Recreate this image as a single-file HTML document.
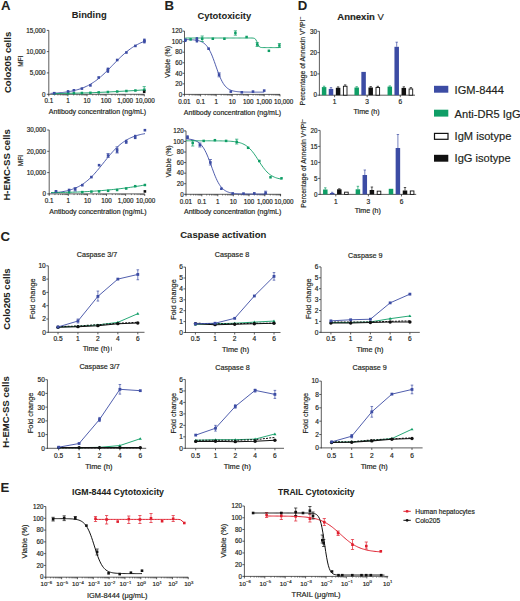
<!DOCTYPE html>
<html><head><meta charset="utf-8"><style>
html,body{margin:0;padding:0;background:#fff;}
body{width:520px;height:601px;overflow:hidden;}
svg{display:block;font-family:"Liberation Sans", sans-serif;}
text{stroke:#231f20;stroke-width:0.18px;}
text[font-weight=bold]{stroke-width:0.05px;}
</style></head><body>
<svg width="520" height="601" viewBox="0 0 520 601">
<rect width="520" height="601" fill="#fff"/>
<text x="0.9" y="10.4" font-size="13.2" text-anchor="start" fill="#231f20" font-weight="bold">A</text>
<text x="164.4" y="10.2" font-size="13.2" text-anchor="start" fill="#231f20" font-weight="bold">B</text>
<text x="297.8" y="10.2" font-size="13.2" text-anchor="start" fill="#231f20" font-weight="bold">D</text>
<text x="0.5" y="240.5" font-size="13.2" text-anchor="start" fill="#231f20" font-weight="bold">C</text>
<text x="0.4" y="491.8" font-size="13.2" text-anchor="start" fill="#231f20" font-weight="bold">E</text>
<text transform="translate(11.34,62.4) rotate(-90)" x="0" y="0" font-size="9.6" text-anchor="middle" fill="#231f20" font-weight="bold">Colo205 cells</text>
<text transform="translate(10.14,164.9) rotate(-90)" x="0" y="0" font-size="9.6" text-anchor="middle" fill="#231f20" font-weight="bold">H-EMC-SS cells</text>
<text transform="translate(9.64,299) rotate(-90)" x="0" y="0" font-size="9.6" text-anchor="middle" fill="#231f20" font-weight="bold">Colo205 cells</text>
<text transform="translate(9.14,412) rotate(-90)" x="0" y="0" font-size="9.6" text-anchor="middle" fill="#231f20" font-weight="bold">H-EMC-SS cells</text>
<text x="89.2" y="18.37" font-size="9.4" text-anchor="middle" fill="#231f20" font-weight="bold">Binding</text>
<text x="224.3" y="19.47" font-size="9.4" text-anchor="middle" fill="#231f20" font-weight="bold">Cytotoxicity</text>
<text x="360.6" y="19.8" font-size="9.5" text-anchor="middle" fill="#231f20"><tspan font-weight="bold">Annexin</tspan> V</text>
<text x="223.3" y="238.3" font-size="9.5" text-anchor="middle" fill="#231f20" font-weight="bold">Caspase activation</text>
<text x="118" y="495.25" font-size="8.8" text-anchor="middle" fill="#231f20" font-weight="bold">IGM-8444 Cytotoxicity</text>
<text x="316.3" y="494.58" font-size="8.6" text-anchor="middle" fill="#231f20" font-weight="bold">TRAIL Cytotoxicity</text>
<line x1="48.8" y1="30.4" x2="48.8" y2="94.7" stroke="#333" stroke-width="0.8"/>
<line x1="46.8" y1="30.4" x2="48.8" y2="30.4" stroke="#333" stroke-width="0.8"/>
<text x="45.6" y="32.66" font-size="6.3" text-anchor="end" fill="#231f20">15,000</text>
<line x1="46.8" y1="51.6" x2="48.8" y2="51.6" stroke="#333" stroke-width="0.8"/>
<text x="45.6" y="53.86" font-size="6.3" text-anchor="end" fill="#231f20">10,000</text>
<line x1="46.8" y1="72.9" x2="48.8" y2="72.9" stroke="#333" stroke-width="0.8"/>
<text x="45.6" y="75.16" font-size="6.3" text-anchor="end" fill="#231f20">5,000</text>
<line x1="46.8" y1="94.3" x2="48.8" y2="94.3" stroke="#333" stroke-width="0.8"/>
<text x="45.6" y="96.56" font-size="6.3" text-anchor="end" fill="#231f20">0</text>
<line x1="48.4" y1="94.3" x2="144.3" y2="94.3" stroke="#333" stroke-width="0.8"/>
<line x1="48.8" y1="94.3" x2="48.8" y2="96.3" stroke="#333" stroke-width="0.8"/>
<text x="48.8" y="103.46" font-size="6.3" text-anchor="middle" fill="#231f20">0.1</text>
<line x1="67.9" y1="94.3" x2="67.9" y2="96.3" stroke="#333" stroke-width="0.8"/>
<text x="67.9" y="103.46" font-size="6.3" text-anchor="middle" fill="#231f20">1</text>
<line x1="87" y1="94.3" x2="87" y2="96.3" stroke="#333" stroke-width="0.8"/>
<text x="87" y="103.46" font-size="6.3" text-anchor="middle" fill="#231f20">10</text>
<line x1="106.1" y1="94.3" x2="106.1" y2="96.3" stroke="#333" stroke-width="0.8"/>
<text x="106.1" y="103.46" font-size="6.3" text-anchor="middle" fill="#231f20">100</text>
<line x1="125.2" y1="94.3" x2="125.2" y2="96.3" stroke="#333" stroke-width="0.8"/>
<text x="125.2" y="103.46" font-size="6.3" text-anchor="middle" fill="#231f20">1,000</text>
<line x1="144.3" y1="94.3" x2="144.3" y2="96.3" stroke="#333" stroke-width="0.8"/>
<text x="145.2" y="103.46" font-size="6.3" text-anchor="middle" fill="#231f20">10,000</text>
<line x1="54.55" y1="94.3" x2="54.55" y2="95.5" stroke="#333" stroke-width="0.6400000000000001"/>
<line x1="57.91" y1="94.3" x2="57.91" y2="95.5" stroke="#333" stroke-width="0.6400000000000001"/>
<line x1="60.3" y1="94.3" x2="60.3" y2="95.5" stroke="#333" stroke-width="0.6400000000000001"/>
<line x1="62.15" y1="94.3" x2="62.15" y2="95.5" stroke="#333" stroke-width="0.6400000000000001"/>
<line x1="63.66" y1="94.3" x2="63.66" y2="95.5" stroke="#333" stroke-width="0.6400000000000001"/>
<line x1="64.94" y1="94.3" x2="64.94" y2="95.5" stroke="#333" stroke-width="0.6400000000000001"/>
<line x1="66.05" y1="94.3" x2="66.05" y2="95.5" stroke="#333" stroke-width="0.6400000000000001"/>
<line x1="67.03" y1="94.3" x2="67.03" y2="95.5" stroke="#333" stroke-width="0.6400000000000001"/>
<line x1="73.65" y1="94.3" x2="73.65" y2="95.5" stroke="#333" stroke-width="0.6400000000000001"/>
<line x1="77.01" y1="94.3" x2="77.01" y2="95.5" stroke="#333" stroke-width="0.6400000000000001"/>
<line x1="79.4" y1="94.3" x2="79.4" y2="95.5" stroke="#333" stroke-width="0.6400000000000001"/>
<line x1="81.25" y1="94.3" x2="81.25" y2="95.5" stroke="#333" stroke-width="0.6400000000000001"/>
<line x1="82.76" y1="94.3" x2="82.76" y2="95.5" stroke="#333" stroke-width="0.6400000000000001"/>
<line x1="84.04" y1="94.3" x2="84.04" y2="95.5" stroke="#333" stroke-width="0.6400000000000001"/>
<line x1="85.15" y1="94.3" x2="85.15" y2="95.5" stroke="#333" stroke-width="0.6400000000000001"/>
<line x1="86.13" y1="94.3" x2="86.13" y2="95.5" stroke="#333" stroke-width="0.6400000000000001"/>
<line x1="92.75" y1="94.3" x2="92.75" y2="95.5" stroke="#333" stroke-width="0.6400000000000001"/>
<line x1="96.11" y1="94.3" x2="96.11" y2="95.5" stroke="#333" stroke-width="0.6400000000000001"/>
<line x1="98.5" y1="94.3" x2="98.5" y2="95.5" stroke="#333" stroke-width="0.6400000000000001"/>
<line x1="100.35" y1="94.3" x2="100.35" y2="95.5" stroke="#333" stroke-width="0.6400000000000001"/>
<line x1="101.86" y1="94.3" x2="101.86" y2="95.5" stroke="#333" stroke-width="0.6400000000000001"/>
<line x1="103.14" y1="94.3" x2="103.14" y2="95.5" stroke="#333" stroke-width="0.6400000000000001"/>
<line x1="104.25" y1="94.3" x2="104.25" y2="95.5" stroke="#333" stroke-width="0.6400000000000001"/>
<line x1="105.23" y1="94.3" x2="105.23" y2="95.5" stroke="#333" stroke-width="0.6400000000000001"/>
<line x1="111.85" y1="94.3" x2="111.85" y2="95.5" stroke="#333" stroke-width="0.6400000000000001"/>
<line x1="115.21" y1="94.3" x2="115.21" y2="95.5" stroke="#333" stroke-width="0.6400000000000001"/>
<line x1="117.6" y1="94.3" x2="117.6" y2="95.5" stroke="#333" stroke-width="0.6400000000000001"/>
<line x1="119.45" y1="94.3" x2="119.45" y2="95.5" stroke="#333" stroke-width="0.6400000000000001"/>
<line x1="120.96" y1="94.3" x2="120.96" y2="95.5" stroke="#333" stroke-width="0.6400000000000001"/>
<line x1="122.24" y1="94.3" x2="122.24" y2="95.5" stroke="#333" stroke-width="0.6400000000000001"/>
<line x1="123.35" y1="94.3" x2="123.35" y2="95.5" stroke="#333" stroke-width="0.6400000000000001"/>
<line x1="124.33" y1="94.3" x2="124.33" y2="95.5" stroke="#333" stroke-width="0.6400000000000001"/>
<line x1="130.95" y1="94.3" x2="130.95" y2="95.5" stroke="#333" stroke-width="0.6400000000000001"/>
<line x1="134.31" y1="94.3" x2="134.31" y2="95.5" stroke="#333" stroke-width="0.6400000000000001"/>
<line x1="136.7" y1="94.3" x2="136.7" y2="95.5" stroke="#333" stroke-width="0.6400000000000001"/>
<line x1="138.55" y1="94.3" x2="138.55" y2="95.5" stroke="#333" stroke-width="0.6400000000000001"/>
<line x1="140.06" y1="94.3" x2="140.06" y2="95.5" stroke="#333" stroke-width="0.6400000000000001"/>
<line x1="141.34" y1="94.3" x2="141.34" y2="95.5" stroke="#333" stroke-width="0.6400000000000001"/>
<line x1="142.45" y1="94.3" x2="142.45" y2="95.5" stroke="#333" stroke-width="0.6400000000000001"/>
<line x1="143.43" y1="94.3" x2="143.43" y2="95.5" stroke="#333" stroke-width="0.6400000000000001"/>
<text transform="translate(23.03,61.2) rotate(-90)" x="0" y="0" font-size="6.5" text-anchor="middle" fill="#231f20">MFI</text>
<text x="97.5" y="114.41" font-size="7" text-anchor="middle" fill="#231f20">Antibody concentration (ng/mL)</text>
<polyline points="50.5,93.39 51.69,93.33 52.88,93.26 54.07,93.19 55.26,93.12 56.45,93.03 57.64,92.94 58.83,92.84 60.02,92.74 61.21,92.62 62.4,92.5 63.59,92.36 64.78,92.21 65.97,92.06 67.16,91.88 68.35,91.7 69.54,91.5 70.73,91.28 71.92,91.05 73.11,90.8 74.3,90.52 75.49,90.23 76.68,89.92 77.87,89.58 79.06,89.22 80.25,88.83 81.44,88.41 82.63,87.96 83.82,87.49 85.01,86.98 86.2,86.43 87.39,85.86 88.58,85.24 89.77,84.59 90.96,83.9 92.15,83.17 93.34,82.41 94.53,81.6 95.72,80.75 96.91,79.87 98.09,78.94 99.28,77.98 100.47,76.97 101.66,75.94 102.85,74.87 104.04,73.77 105.23,72.64 106.42,71.48 107.61,70.3 108.8,69.11 109.99,67.9 111.18,66.68 112.37,65.45 113.56,64.22 114.75,62.99 115.94,61.77 117.13,60.56 118.32,59.37 119.51,58.2 120.7,57.04 121.89,55.92 123.08,54.82 124.27,53.75 125.46,52.72 126.65,51.73 127.84,50.77 129.03,49.85 130.22,48.96 131.41,48.12 132.6,47.32 133.79,46.56 134.98,45.84 136.17,45.15 137.36,44.51 138.55,43.9 139.74,43.32 140.93,42.78 142.12,42.28 143.31,41.81 144.5,41.36" fill="none" stroke="#3c4ca4" stroke-width="0.9" stroke-linejoin="round"/>
<polyline points="54.2,93.6 68.1,93.3 73.9,93.2 81.9,93 90.4,92.8 98.7,92.4 107.9,92 117.2,91.5 126.4,91 135.4,90.5 144.4,89.8" fill="none" stroke="#0f9e66" stroke-width="0.9" stroke-linejoin="round"/>
<rect x="52.95" y="92.35" width="2.5" height="2.5" fill="#0f9e66"/>
<rect x="66.85" y="92.05" width="2.5" height="2.5" fill="#0f9e66"/>
<rect x="72.65" y="91.95" width="2.5" height="2.5" fill="#0f9e66"/>
<rect x="80.65" y="91.75" width="2.5" height="2.5" fill="#0f9e66"/>
<rect x="89.15" y="91.55" width="2.5" height="2.5" fill="#0f9e66"/>
<rect x="97.45" y="91.15" width="2.5" height="2.5" fill="#0f9e66"/>
<rect x="106.65" y="90.75" width="2.5" height="2.5" fill="#0f9e66"/>
<rect x="115.95" y="90.25" width="2.5" height="2.5" fill="#0f9e66"/>
<rect x="125.15" y="89.75" width="2.5" height="2.5" fill="#0f9e66"/>
<rect x="134.15" y="89.25" width="2.5" height="2.5" fill="#0f9e66"/>
<rect x="143.15" y="88.55" width="2.5" height="2.5" fill="#0f9e66"/>
<rect x="52.9" y="91.9" width="2.6" height="2.6" fill="#3c4ca4"/>
<rect x="66.8" y="90.1" width="2.6" height="2.6" fill="#3c4ca4"/>
<rect x="72.6" y="89" width="2.6" height="2.6" fill="#3c4ca4"/>
<rect x="80.6" y="87.3" width="2.6" height="2.6" fill="#3c4ca4"/>
<rect x="89.1" y="84.1" width="2.6" height="2.6" fill="#3c4ca4"/>
<rect x="97.4" y="76.2" width="2.6" height="2.6" fill="#3c4ca4"/>
<rect x="106.6" y="68.8" width="2.6" height="2.6" fill="#3c4ca4"/>
<rect x="115.9" y="58.7" width="2.6" height="2.6" fill="#3c4ca4"/>
<rect x="125.1" y="51.2" width="2.6" height="2.6" fill="#3c4ca4"/>
<rect x="134.1" y="44.6" width="2.6" height="2.6" fill="#3c4ca4"/>
<rect x="143.1" y="39.7" width="2.6" height="2.6" fill="#3c4ca4"/>
<rect x="106.7" y="67.6" width="2.4" height="2.4" fill="#3c4ca4"/>
<rect x="106.7" y="70.4" width="2.4" height="2.4" fill="#3c4ca4"/>
<rect x="143.2" y="38.6" width="2.4" height="2.4" fill="#3c4ca4"/>
<rect x="143.2" y="41" width="2.4" height="2.4" fill="#3c4ca4"/>
<line x1="144.2" y1="86.6" x2="144.2" y2="90.5" stroke="#0f9e66" stroke-width="0.7"/>
<line x1="142.6" y1="86.6" x2="145.8" y2="86.6" stroke="#0f9e66" stroke-width="0.7"/>
<line x1="142.6" y1="90.5" x2="145.8" y2="90.5" stroke="#0f9e66" stroke-width="0.7"/>
<rect x="142.9" y="90.5" width="2.6" height="2.6" fill="#111"/>
<line x1="49.2" y1="130" x2="49.2" y2="194.3" stroke="#333" stroke-width="0.8"/>
<line x1="47.2" y1="130" x2="49.2" y2="130" stroke="#333" stroke-width="0.8"/>
<text x="46" y="132.26" font-size="6.3" text-anchor="end" fill="#231f20">30,000</text>
<line x1="47.2" y1="151.3" x2="49.2" y2="151.3" stroke="#333" stroke-width="0.8"/>
<text x="46" y="153.56" font-size="6.3" text-anchor="end" fill="#231f20">20,000</text>
<line x1="47.2" y1="172.6" x2="49.2" y2="172.6" stroke="#333" stroke-width="0.8"/>
<text x="46" y="174.86" font-size="6.3" text-anchor="end" fill="#231f20">10,000</text>
<line x1="47.2" y1="193.9" x2="49.2" y2="193.9" stroke="#333" stroke-width="0.8"/>
<text x="46" y="196.16" font-size="6.3" text-anchor="end" fill="#231f20">0</text>
<line x1="48.8" y1="193.9" x2="144.7" y2="193.9" stroke="#333" stroke-width="0.8"/>
<line x1="49.2" y1="193.9" x2="49.2" y2="195.9" stroke="#333" stroke-width="0.8"/>
<text x="49.2" y="203.26" font-size="6.3" text-anchor="middle" fill="#231f20">0.1</text>
<line x1="68.3" y1="193.9" x2="68.3" y2="195.9" stroke="#333" stroke-width="0.8"/>
<text x="68.3" y="203.26" font-size="6.3" text-anchor="middle" fill="#231f20">1</text>
<line x1="87.4" y1="193.9" x2="87.4" y2="195.9" stroke="#333" stroke-width="0.8"/>
<text x="87.4" y="203.26" font-size="6.3" text-anchor="middle" fill="#231f20">10</text>
<line x1="106.5" y1="193.9" x2="106.5" y2="195.9" stroke="#333" stroke-width="0.8"/>
<text x="106.5" y="203.26" font-size="6.3" text-anchor="middle" fill="#231f20">100</text>
<line x1="125.6" y1="193.9" x2="125.6" y2="195.9" stroke="#333" stroke-width="0.8"/>
<text x="125.6" y="203.26" font-size="6.3" text-anchor="middle" fill="#231f20">1,000</text>
<line x1="144.7" y1="193.9" x2="144.7" y2="195.9" stroke="#333" stroke-width="0.8"/>
<text x="145.6" y="203.26" font-size="6.3" text-anchor="middle" fill="#231f20">10,000</text>
<line x1="54.95" y1="193.9" x2="54.95" y2="195.1" stroke="#333" stroke-width="0.6400000000000001"/>
<line x1="58.31" y1="193.9" x2="58.31" y2="195.1" stroke="#333" stroke-width="0.6400000000000001"/>
<line x1="60.7" y1="193.9" x2="60.7" y2="195.1" stroke="#333" stroke-width="0.6400000000000001"/>
<line x1="62.55" y1="193.9" x2="62.55" y2="195.1" stroke="#333" stroke-width="0.6400000000000001"/>
<line x1="64.06" y1="193.9" x2="64.06" y2="195.1" stroke="#333" stroke-width="0.6400000000000001"/>
<line x1="65.34" y1="193.9" x2="65.34" y2="195.1" stroke="#333" stroke-width="0.6400000000000001"/>
<line x1="66.45" y1="193.9" x2="66.45" y2="195.1" stroke="#333" stroke-width="0.6400000000000001"/>
<line x1="67.43" y1="193.9" x2="67.43" y2="195.1" stroke="#333" stroke-width="0.6400000000000001"/>
<line x1="74.05" y1="193.9" x2="74.05" y2="195.1" stroke="#333" stroke-width="0.6400000000000001"/>
<line x1="77.41" y1="193.9" x2="77.41" y2="195.1" stroke="#333" stroke-width="0.6400000000000001"/>
<line x1="79.8" y1="193.9" x2="79.8" y2="195.1" stroke="#333" stroke-width="0.6400000000000001"/>
<line x1="81.65" y1="193.9" x2="81.65" y2="195.1" stroke="#333" stroke-width="0.6400000000000001"/>
<line x1="83.16" y1="193.9" x2="83.16" y2="195.1" stroke="#333" stroke-width="0.6400000000000001"/>
<line x1="84.44" y1="193.9" x2="84.44" y2="195.1" stroke="#333" stroke-width="0.6400000000000001"/>
<line x1="85.55" y1="193.9" x2="85.55" y2="195.1" stroke="#333" stroke-width="0.6400000000000001"/>
<line x1="86.53" y1="193.9" x2="86.53" y2="195.1" stroke="#333" stroke-width="0.6400000000000001"/>
<line x1="93.15" y1="193.9" x2="93.15" y2="195.1" stroke="#333" stroke-width="0.6400000000000001"/>
<line x1="96.51" y1="193.9" x2="96.51" y2="195.1" stroke="#333" stroke-width="0.6400000000000001"/>
<line x1="98.9" y1="193.9" x2="98.9" y2="195.1" stroke="#333" stroke-width="0.6400000000000001"/>
<line x1="100.75" y1="193.9" x2="100.75" y2="195.1" stroke="#333" stroke-width="0.6400000000000001"/>
<line x1="102.26" y1="193.9" x2="102.26" y2="195.1" stroke="#333" stroke-width="0.6400000000000001"/>
<line x1="103.54" y1="193.9" x2="103.54" y2="195.1" stroke="#333" stroke-width="0.6400000000000001"/>
<line x1="104.65" y1="193.9" x2="104.65" y2="195.1" stroke="#333" stroke-width="0.6400000000000001"/>
<line x1="105.63" y1="193.9" x2="105.63" y2="195.1" stroke="#333" stroke-width="0.6400000000000001"/>
<line x1="112.25" y1="193.9" x2="112.25" y2="195.1" stroke="#333" stroke-width="0.6400000000000001"/>
<line x1="115.61" y1="193.9" x2="115.61" y2="195.1" stroke="#333" stroke-width="0.6400000000000001"/>
<line x1="118" y1="193.9" x2="118" y2="195.1" stroke="#333" stroke-width="0.6400000000000001"/>
<line x1="119.85" y1="193.9" x2="119.85" y2="195.1" stroke="#333" stroke-width="0.6400000000000001"/>
<line x1="121.36" y1="193.9" x2="121.36" y2="195.1" stroke="#333" stroke-width="0.6400000000000001"/>
<line x1="122.64" y1="193.9" x2="122.64" y2="195.1" stroke="#333" stroke-width="0.6400000000000001"/>
<line x1="123.75" y1="193.9" x2="123.75" y2="195.1" stroke="#333" stroke-width="0.6400000000000001"/>
<line x1="124.73" y1="193.9" x2="124.73" y2="195.1" stroke="#333" stroke-width="0.6400000000000001"/>
<line x1="131.35" y1="193.9" x2="131.35" y2="195.1" stroke="#333" stroke-width="0.6400000000000001"/>
<line x1="134.71" y1="193.9" x2="134.71" y2="195.1" stroke="#333" stroke-width="0.6400000000000001"/>
<line x1="137.1" y1="193.9" x2="137.1" y2="195.1" stroke="#333" stroke-width="0.6400000000000001"/>
<line x1="138.95" y1="193.9" x2="138.95" y2="195.1" stroke="#333" stroke-width="0.6400000000000001"/>
<line x1="140.46" y1="193.9" x2="140.46" y2="195.1" stroke="#333" stroke-width="0.6400000000000001"/>
<line x1="141.74" y1="193.9" x2="141.74" y2="195.1" stroke="#333" stroke-width="0.6400000000000001"/>
<line x1="142.85" y1="193.9" x2="142.85" y2="195.1" stroke="#333" stroke-width="0.6400000000000001"/>
<line x1="143.83" y1="193.9" x2="143.83" y2="195.1" stroke="#333" stroke-width="0.6400000000000001"/>
<text transform="translate(23.03,160.6) rotate(-90)" x="0" y="0" font-size="6.5" text-anchor="middle" fill="#231f20">MFI</text>
<text x="98" y="213.51" font-size="7" text-anchor="middle" fill="#231f20">Antibody concentration (ng/mL)</text>
<polyline points="51,192.99 52.19,192.9 53.38,192.8 54.57,192.7 55.76,192.58 56.95,192.46 58.14,192.32 59.33,192.17 60.52,192 61.71,191.82 62.9,191.62 64.09,191.4 65.28,191.16 66.47,190.91 67.66,190.62 68.85,190.31 70.04,189.98 71.23,189.61 72.42,189.22 73.61,188.79 74.8,188.32 75.99,187.82 77.18,187.27 78.37,186.68 79.56,186.05 80.75,185.37 81.94,184.64 83.13,183.86 84.32,183.03 85.51,182.14 86.7,181.2 87.89,180.21 89.08,179.16 90.27,178.05 91.46,176.89 92.65,175.68 93.84,174.42 95.03,173.11 96.22,171.76 97.41,170.37 98.59,168.95 99.78,167.5 100.97,166.03 102.16,164.55 103.35,163.05 104.54,161.56 105.73,160.07 106.92,158.59 108.11,157.13 109.3,155.69 110.49,154.29 111.68,152.92 112.87,151.59 114.06,150.3 115.25,149.07 116.44,147.88 117.63,146.75 118.82,145.67 120.01,144.65 121.2,143.68 122.39,142.76 123.58,141.91 124.77,141.1 125.96,140.35 127.15,139.64 128.34,138.99 129.53,138.38 130.72,137.81 131.91,137.29 133.1,136.8 134.29,136.35 135.48,135.94 136.67,135.56 137.86,135.21 139.05,134.89 140.24,134.59 141.43,134.32 142.62,134.07 143.81,133.85 145,133.64" fill="none" stroke="#3c4ca4" stroke-width="0.9" stroke-linejoin="round"/>
<polyline points="51,192.5 53.41,192.5 55.82,192.49 58.23,192.47 60.64,192.45 63.05,192.42 65.46,192.38 67.87,192.33 70.28,192.27 72.69,192.2 75.1,192.12 77.51,192.04 79.92,191.94 82.33,191.83 84.74,191.71 87.15,191.58 89.56,191.44 91.97,191.29 94.38,191.13 96.79,190.96 99.21,190.77 101.62,190.58 104.03,190.37 106.44,190.15 108.85,189.92 111.26,189.68 113.67,189.43 116.08,189.16 118.49,188.88 120.9,188.59 123.31,188.29 125.72,187.97 128.13,187.65 130.54,187.31 132.95,186.95 135.36,186.59 137.77,186.21 140.18,185.82 142.59,185.42 145,185" fill="none" stroke="#0f9e66" stroke-width="0.9" stroke-linejoin="round"/>
<rect x="54.75" y="190.65" width="2.5" height="2.5" fill="#0f9e66"/>
<rect x="67.85" y="191.05" width="2.5" height="2.5" fill="#0f9e66"/>
<rect x="81.05" y="190.85" width="2.5" height="2.5" fill="#0f9e66"/>
<rect x="90.15" y="190.35" width="2.5" height="2.5" fill="#0f9e66"/>
<rect x="97.85" y="190.15" width="2.5" height="2.5" fill="#0f9e66"/>
<rect x="106.85" y="189.55" width="2.5" height="2.5" fill="#0f9e66"/>
<rect x="115.85" y="188.75" width="2.5" height="2.5" fill="#0f9e66"/>
<rect x="124.95" y="187.25" width="2.5" height="2.5" fill="#0f9e66"/>
<rect x="133.95" y="184.95" width="2.5" height="2.5" fill="#0f9e66"/>
<rect x="143.65" y="183.75" width="2.5" height="2.5" fill="#0f9e66"/>
<rect x="54.7" y="190" width="2.6" height="2.6" fill="#3c4ca4"/>
<rect x="67.8" y="188.7" width="2.6" height="2.6" fill="#3c4ca4"/>
<rect x="73.9" y="187.9" width="2.6" height="2.6" fill="#3c4ca4"/>
<rect x="81" y="183.9" width="2.6" height="2.6" fill="#3c4ca4"/>
<rect x="90.1" y="175.8" width="2.6" height="2.6" fill="#3c4ca4"/>
<rect x="97.8" y="163.9" width="2.6" height="2.6" fill="#3c4ca4"/>
<rect x="106.8" y="154.2" width="2.6" height="2.6" fill="#3c4ca4"/>
<rect x="115.8" y="148.2" width="2.6" height="2.6" fill="#3c4ca4"/>
<rect x="124.9" y="141.2" width="2.6" height="2.6" fill="#3c4ca4"/>
<rect x="133.9" y="136.5" width="2.6" height="2.6" fill="#3c4ca4"/>
<rect x="143.6" y="128.9" width="2.6" height="2.6" fill="#3c4ca4"/>
<line x1="75.2" y1="187.5" x2="75.2" y2="191" stroke="#3c4ca4" stroke-width="0.7"/>
<line x1="73.6" y1="187.5" x2="76.8" y2="187.5" stroke="#3c4ca4" stroke-width="0.7"/>
<line x1="73.6" y1="191" x2="76.8" y2="191" stroke="#3c4ca4" stroke-width="0.7"/>
<line x1="117.1" y1="146.8" x2="117.1" y2="153" stroke="#3c4ca4" stroke-width="0.7"/>
<line x1="115.5" y1="146.8" x2="118.7" y2="146.8" stroke="#3c4ca4" stroke-width="0.7"/>
<line x1="115.5" y1="153" x2="118.7" y2="153" stroke="#3c4ca4" stroke-width="0.7"/>
<line x1="108.1" y1="153.5" x2="108.1" y2="157.5" stroke="#3c4ca4" stroke-width="0.7"/>
<line x1="106.5" y1="153.5" x2="109.7" y2="153.5" stroke="#3c4ca4" stroke-width="0.7"/>
<line x1="106.5" y1="157.5" x2="109.7" y2="157.5" stroke="#3c4ca4" stroke-width="0.7"/>
<rect x="115.9" y="150.3" width="2.4" height="2.4" fill="#3c4ca4"/>
<rect x="125" y="139.8" width="2.4" height="2.4" fill="#3c4ca4"/>
<rect x="134" y="134.8" width="2.4" height="2.4" fill="#3c4ca4"/>
<rect x="143.6" y="190.1" width="2.6" height="2.6" fill="#111"/>
<line x1="184.5" y1="31.1" x2="184.5" y2="94.8" stroke="#333" stroke-width="0.8"/>
<line x1="182.5" y1="94.4" x2="184.5" y2="94.4" stroke="#333" stroke-width="0.8"/>
<text x="182.25" y="96.66" font-size="6.3" text-anchor="end" fill="#231f20">0</text>
<line x1="182.5" y1="83.85" x2="184.5" y2="83.85" stroke="#333" stroke-width="0.8"/>
<text x="182.25" y="86.11" font-size="6.3" text-anchor="end" fill="#231f20">20</text>
<line x1="182.5" y1="73.3" x2="184.5" y2="73.3" stroke="#333" stroke-width="0.8"/>
<text x="182.25" y="75.56" font-size="6.3" text-anchor="end" fill="#231f20">40</text>
<line x1="182.5" y1="62.75" x2="184.5" y2="62.75" stroke="#333" stroke-width="0.8"/>
<text x="182.25" y="65.01" font-size="6.3" text-anchor="end" fill="#231f20">60</text>
<line x1="182.5" y1="52.2" x2="184.5" y2="52.2" stroke="#333" stroke-width="0.8"/>
<text x="182.25" y="54.46" font-size="6.3" text-anchor="end" fill="#231f20">80</text>
<line x1="182.5" y1="41.65" x2="184.5" y2="41.65" stroke="#333" stroke-width="0.8"/>
<text x="182.25" y="43.91" font-size="6.3" text-anchor="end" fill="#231f20">100</text>
<line x1="182.5" y1="31.1" x2="184.5" y2="31.1" stroke="#333" stroke-width="0.8"/>
<text x="182.25" y="33.36" font-size="6.3" text-anchor="end" fill="#231f20">120</text>
<line x1="184.1" y1="94.4" x2="280" y2="94.4" stroke="#333" stroke-width="0.8"/>
<line x1="184.4" y1="94.4" x2="184.4" y2="96.4" stroke="#333" stroke-width="0.8"/>
<line x1="200.6" y1="94.4" x2="200.6" y2="96.4" stroke="#333" stroke-width="0.8"/>
<line x1="216.2" y1="94.4" x2="216.2" y2="96.4" stroke="#333" stroke-width="0.8"/>
<line x1="232.2" y1="94.4" x2="232.2" y2="96.4" stroke="#333" stroke-width="0.8"/>
<line x1="248.3" y1="94.4" x2="248.3" y2="96.4" stroke="#333" stroke-width="0.8"/>
<line x1="264.2" y1="94.4" x2="264.2" y2="96.4" stroke="#333" stroke-width="0.8"/>
<line x1="280" y1="94.4" x2="280" y2="96.4" stroke="#333" stroke-width="0.8"/>
<line x1="189.3" y1="94.4" x2="189.3" y2="95.6" stroke="#333" stroke-width="0.6400000000000001"/>
<line x1="192.11" y1="94.4" x2="192.11" y2="95.6" stroke="#333" stroke-width="0.6400000000000001"/>
<line x1="194.1" y1="94.4" x2="194.1" y2="95.6" stroke="#333" stroke-width="0.6400000000000001"/>
<line x1="195.65" y1="94.4" x2="195.65" y2="95.6" stroke="#333" stroke-width="0.6400000000000001"/>
<line x1="196.91" y1="94.4" x2="196.91" y2="95.6" stroke="#333" stroke-width="0.6400000000000001"/>
<line x1="197.98" y1="94.4" x2="197.98" y2="95.6" stroke="#333" stroke-width="0.6400000000000001"/>
<line x1="198.9" y1="94.4" x2="198.9" y2="95.6" stroke="#333" stroke-width="0.6400000000000001"/>
<line x1="199.72" y1="94.4" x2="199.72" y2="95.6" stroke="#333" stroke-width="0.6400000000000001"/>
<line x1="205.25" y1="94.4" x2="205.25" y2="95.6" stroke="#333" stroke-width="0.6400000000000001"/>
<line x1="208.06" y1="94.4" x2="208.06" y2="95.6" stroke="#333" stroke-width="0.6400000000000001"/>
<line x1="210.05" y1="94.4" x2="210.05" y2="95.6" stroke="#333" stroke-width="0.6400000000000001"/>
<line x1="211.6" y1="94.4" x2="211.6" y2="95.6" stroke="#333" stroke-width="0.6400000000000001"/>
<line x1="212.86" y1="94.4" x2="212.86" y2="95.6" stroke="#333" stroke-width="0.6400000000000001"/>
<line x1="213.93" y1="94.4" x2="213.93" y2="95.6" stroke="#333" stroke-width="0.6400000000000001"/>
<line x1="214.85" y1="94.4" x2="214.85" y2="95.6" stroke="#333" stroke-width="0.6400000000000001"/>
<line x1="215.67" y1="94.4" x2="215.67" y2="95.6" stroke="#333" stroke-width="0.6400000000000001"/>
<line x1="221.2" y1="94.4" x2="221.2" y2="95.6" stroke="#333" stroke-width="0.6400000000000001"/>
<line x1="224.01" y1="94.4" x2="224.01" y2="95.6" stroke="#333" stroke-width="0.6400000000000001"/>
<line x1="226" y1="94.4" x2="226" y2="95.6" stroke="#333" stroke-width="0.6400000000000001"/>
<line x1="227.55" y1="94.4" x2="227.55" y2="95.6" stroke="#333" stroke-width="0.6400000000000001"/>
<line x1="228.81" y1="94.4" x2="228.81" y2="95.6" stroke="#333" stroke-width="0.6400000000000001"/>
<line x1="229.88" y1="94.4" x2="229.88" y2="95.6" stroke="#333" stroke-width="0.6400000000000001"/>
<line x1="230.8" y1="94.4" x2="230.8" y2="95.6" stroke="#333" stroke-width="0.6400000000000001"/>
<line x1="231.62" y1="94.4" x2="231.62" y2="95.6" stroke="#333" stroke-width="0.6400000000000001"/>
<line x1="237.15" y1="94.4" x2="237.15" y2="95.6" stroke="#333" stroke-width="0.6400000000000001"/>
<line x1="239.96" y1="94.4" x2="239.96" y2="95.6" stroke="#333" stroke-width="0.6400000000000001"/>
<line x1="241.95" y1="94.4" x2="241.95" y2="95.6" stroke="#333" stroke-width="0.6400000000000001"/>
<line x1="243.5" y1="94.4" x2="243.5" y2="95.6" stroke="#333" stroke-width="0.6400000000000001"/>
<line x1="244.76" y1="94.4" x2="244.76" y2="95.6" stroke="#333" stroke-width="0.6400000000000001"/>
<line x1="245.83" y1="94.4" x2="245.83" y2="95.6" stroke="#333" stroke-width="0.6400000000000001"/>
<line x1="246.75" y1="94.4" x2="246.75" y2="95.6" stroke="#333" stroke-width="0.6400000000000001"/>
<line x1="247.57" y1="94.4" x2="247.57" y2="95.6" stroke="#333" stroke-width="0.6400000000000001"/>
<line x1="253.1" y1="94.4" x2="253.1" y2="95.6" stroke="#333" stroke-width="0.6400000000000001"/>
<line x1="255.91" y1="94.4" x2="255.91" y2="95.6" stroke="#333" stroke-width="0.6400000000000001"/>
<line x1="257.9" y1="94.4" x2="257.9" y2="95.6" stroke="#333" stroke-width="0.6400000000000001"/>
<line x1="259.45" y1="94.4" x2="259.45" y2="95.6" stroke="#333" stroke-width="0.6400000000000001"/>
<line x1="260.71" y1="94.4" x2="260.71" y2="95.6" stroke="#333" stroke-width="0.6400000000000001"/>
<line x1="261.78" y1="94.4" x2="261.78" y2="95.6" stroke="#333" stroke-width="0.6400000000000001"/>
<line x1="262.7" y1="94.4" x2="262.7" y2="95.6" stroke="#333" stroke-width="0.6400000000000001"/>
<line x1="263.52" y1="94.4" x2="263.52" y2="95.6" stroke="#333" stroke-width="0.6400000000000001"/>
<line x1="269.05" y1="94.4" x2="269.05" y2="95.6" stroke="#333" stroke-width="0.6400000000000001"/>
<line x1="271.86" y1="94.4" x2="271.86" y2="95.6" stroke="#333" stroke-width="0.6400000000000001"/>
<line x1="273.85" y1="94.4" x2="273.85" y2="95.6" stroke="#333" stroke-width="0.6400000000000001"/>
<line x1="275.4" y1="94.4" x2="275.4" y2="95.6" stroke="#333" stroke-width="0.6400000000000001"/>
<line x1="276.66" y1="94.4" x2="276.66" y2="95.6" stroke="#333" stroke-width="0.6400000000000001"/>
<line x1="277.73" y1="94.4" x2="277.73" y2="95.6" stroke="#333" stroke-width="0.6400000000000001"/>
<line x1="278.65" y1="94.4" x2="278.65" y2="95.6" stroke="#333" stroke-width="0.6400000000000001"/>
<line x1="279.47" y1="94.4" x2="279.47" y2="95.6" stroke="#333" stroke-width="0.6400000000000001"/>
<text x="184.4" y="103.86" font-size="6.3" text-anchor="middle" fill="#231f20">0.01</text>
<text x="200.6" y="103.86" font-size="6.3" text-anchor="middle" fill="#231f20">0.1</text>
<text x="216.2" y="103.86" font-size="6.3" text-anchor="middle" fill="#231f20">1</text>
<text x="232.2" y="103.86" font-size="6.3" text-anchor="middle" fill="#231f20">10</text>
<text x="248.3" y="103.86" font-size="6.3" text-anchor="middle" fill="#231f20">100</text>
<text x="264.2" y="103.86" font-size="6.3" text-anchor="middle" fill="#231f20">1,000</text>
<text x="283.7" y="103.86" font-size="6.3" text-anchor="middle" fill="#231f20">10,000</text>
<text transform="translate(170.01,62) rotate(-90)" x="0" y="0" font-size="7" text-anchor="middle" fill="#231f20">Viable (%)</text>
<text x="232.5" y="114.51" font-size="7" text-anchor="middle" fill="#231f20">Antibody concentration (ng/mL)</text>
<polyline points="185.3,39.55 186.3,39.57 187.3,39.59 188.3,39.62 189.29,39.65 190.29,39.69 191.29,39.74 192.29,39.8 193.29,39.87 194.29,39.97 195.29,40.08 196.29,40.23 197.28,40.4 198.28,40.62 199.28,40.89 200.28,41.22 201.28,41.62 202.28,42.12 203.28,42.72 204.28,43.44 205.27,44.32 206.27,45.36 207.27,46.59 208.27,48.04 209.27,49.71 210.27,51.62 211.27,53.76 212.27,56.13 213.26,58.7 214.26,61.42 215.26,64.24 216.26,67.1 217.26,69.92 218.26,72.66 219.26,75.24 220.26,77.63 221.25,79.8 222.25,81.73 223.25,83.43 224.25,84.9 225.25,86.15 226.25,87.21 227.25,88.1 228.25,88.84 229.24,89.45 230.24,89.95 231.24,90.37 232.24,90.7 233.24,90.98 234.24,91.2 235.24,91.38 236.24,91.53 237.23,91.65 238.23,91.74 239.23,91.82 240.23,91.88 241.23,91.93 242.23,91.97 243.23,92 244.23,92.03 245.22,92.05 246.22,92.07 247.22,92.08 248.22,92.09 249.22,92.1 250.22,92.11 251.22,92.12 252.22,92.12 253.21,92.12 254.21,92.13 255.21,92.13 256.21,92.13 257.21,92.13 258.21,92.13 259.21,92.14 260.21,92.14 261.2,92.14 262.2,92.14 263.2,92.14 264.2,92.14" fill="none" stroke="#3c4ca4" stroke-width="0.9" stroke-linejoin="round"/>
<polyline points="185.3,38 186.49,38 187.68,38 188.87,38 190.06,38 191.26,38 192.45,38 193.64,38 194.83,38 196.02,38 197.21,38 198.4,38 199.59,38 200.78,38 201.98,38 203.17,38 204.36,38 205.55,38 206.74,38 207.93,38 209.12,38 210.31,38 211.51,38 212.7,38 213.89,38 215.08,38 216.27,38 217.46,38 218.65,38 219.84,38 221.03,38 222.23,38 223.42,38 224.61,38 225.8,38 226.99,38 228.18,38 229.37,38 230.56,38 231.75,38 232.95,38 234.14,38 235.33,38 236.52,38 237.71,38 238.9,38 240.09,38 241.28,38 242.47,38 243.67,38 244.86,38 246.05,38 247.24,38 248.43,38 249.62,38 250.81,38.01 252,38.03 253.19,38.1 254.39,38.37 255.58,39.25 256.77,41.44 257.96,44.47 259.15,46.49 260.34,47.27 261.53,47.51 262.72,47.58 263.92,47.59 265.11,47.6 266.3,47.6 267.49,47.6 268.68,47.6 269.87,47.6 271.06,47.6 272.25,47.6 273.44,47.6 274.64,47.6 275.83,47.6 277.02,47.6 278.21,47.6 279.4,47.6" fill="none" stroke="#0f9e66" stroke-width="0.9" stroke-linejoin="round"/>
<rect x="184.05" y="38.55" width="2.5" height="2.5" fill="#0f9e66"/>
<rect x="189.35" y="38.15" width="2.5" height="2.5" fill="#0f9e66"/>
<rect x="200.95" y="37.5" width="2.5" height="2.5" fill="#0f9e66"/>
<rect x="211.55" y="37.5" width="2.5" height="2.5" fill="#0f9e66"/>
<rect x="223.15" y="37.5" width="2.5" height="2.5" fill="#0f9e66"/>
<rect x="234.15" y="31.75" width="2.5" height="2.5" fill="#0f9e66"/>
<rect x="245.35" y="35.75" width="2.5" height="2.5" fill="#0f9e66"/>
<rect x="255.95" y="43.25" width="2.5" height="2.5" fill="#0f9e66"/>
<rect x="267.65" y="49.55" width="2.5" height="2.5" fill="#0f9e66"/>
<rect x="278.15" y="44.25" width="2.5" height="2.5" fill="#0f9e66"/>
<line x1="202.2" y1="36" x2="202.2" y2="41.5" stroke="#0f9e66" stroke-width="0.7"/>
<line x1="200.6" y1="36" x2="203.8" y2="36" stroke="#0f9e66" stroke-width="0.7"/>
<line x1="200.6" y1="41.5" x2="203.8" y2="41.5" stroke="#0f9e66" stroke-width="0.7"/>
<line x1="235.4" y1="30.8" x2="235.4" y2="35.2" stroke="#0f9e66" stroke-width="0.7"/>
<line x1="233.8" y1="30.8" x2="237" y2="30.8" stroke="#0f9e66" stroke-width="0.7"/>
<line x1="233.8" y1="35.2" x2="237" y2="35.2" stroke="#0f9e66" stroke-width="0.7"/>
<line x1="257.2" y1="42.5" x2="257.2" y2="46.5" stroke="#0f9e66" stroke-width="0.7"/>
<line x1="255.6" y1="42.5" x2="258.8" y2="42.5" stroke="#0f9e66" stroke-width="0.7"/>
<line x1="255.6" y1="46.5" x2="258.8" y2="46.5" stroke="#0f9e66" stroke-width="0.7"/>
<line x1="279.4" y1="43.5" x2="279.4" y2="47.5" stroke="#0f9e66" stroke-width="0.7"/>
<line x1="277.8" y1="43.5" x2="281" y2="43.5" stroke="#0f9e66" stroke-width="0.7"/>
<line x1="277.8" y1="47.5" x2="281" y2="47.5" stroke="#0f9e66" stroke-width="0.7"/>
<rect x="184" y="38.5" width="2.6" height="2.6" fill="#3c4ca4"/>
<rect x="195.6" y="38.5" width="2.6" height="2.6" fill="#3c4ca4"/>
<rect x="207.3" y="47.4" width="2.6" height="2.6" fill="#3c4ca4"/>
<rect x="217.8" y="73.4" width="2.6" height="2.6" fill="#3c4ca4"/>
<rect x="229.5" y="90.3" width="2.6" height="2.6" fill="#3c4ca4"/>
<rect x="240.5" y="91" width="2.6" height="2.6" fill="#3c4ca4"/>
<rect x="251.7" y="90.3" width="2.6" height="2.6" fill="#3c4ca4"/>
<rect x="262.9" y="89.3" width="2.6" height="2.6" fill="#3c4ca4"/>
<rect x="195.7" y="37.1" width="2.4" height="2.4" fill="#3c4ca4"/>
<rect x="195.7" y="40.1" width="2.4" height="2.4" fill="#3c4ca4"/>
<line x1="219.1" y1="72.8" x2="219.1" y2="76.8" stroke="#3c4ca4" stroke-width="0.7"/>
<line x1="217.5" y1="72.8" x2="220.7" y2="72.8" stroke="#3c4ca4" stroke-width="0.7"/>
<line x1="217.5" y1="76.8" x2="220.7" y2="76.8" stroke="#3c4ca4" stroke-width="0.7"/>
<rect x="184.1" y="39.6" width="2.4" height="2.4" fill="#3c4ca4"/>
<line x1="186" y1="130.88" x2="186" y2="194.7" stroke="#333" stroke-width="0.8"/>
<line x1="184" y1="194.3" x2="186" y2="194.3" stroke="#333" stroke-width="0.8"/>
<text x="183.75" y="196.56" font-size="6.3" text-anchor="end" fill="#231f20">0</text>
<line x1="184" y1="183.73" x2="186" y2="183.73" stroke="#333" stroke-width="0.8"/>
<text x="183.75" y="185.99" font-size="6.3" text-anchor="end" fill="#231f20">20</text>
<line x1="184" y1="173.16" x2="186" y2="173.16" stroke="#333" stroke-width="0.8"/>
<text x="183.75" y="175.42" font-size="6.3" text-anchor="end" fill="#231f20">40</text>
<line x1="184" y1="162.59" x2="186" y2="162.59" stroke="#333" stroke-width="0.8"/>
<text x="183.75" y="164.85" font-size="6.3" text-anchor="end" fill="#231f20">60</text>
<line x1="184" y1="152.02" x2="186" y2="152.02" stroke="#333" stroke-width="0.8"/>
<text x="183.75" y="154.28" font-size="6.3" text-anchor="end" fill="#231f20">80</text>
<line x1="184" y1="141.45" x2="186" y2="141.45" stroke="#333" stroke-width="0.8"/>
<text x="183.75" y="143.71" font-size="6.3" text-anchor="end" fill="#231f20">100</text>
<line x1="184" y1="130.88" x2="186" y2="130.88" stroke="#333" stroke-width="0.8"/>
<text x="183.75" y="133.14" font-size="6.3" text-anchor="end" fill="#231f20">120</text>
<line x1="185.6" y1="194.3" x2="281" y2="194.3" stroke="#333" stroke-width="0.8"/>
<line x1="186" y1="194.3" x2="186" y2="196.3" stroke="#333" stroke-width="0.8"/>
<line x1="201.8" y1="194.3" x2="201.8" y2="196.3" stroke="#333" stroke-width="0.8"/>
<line x1="217.8" y1="194.3" x2="217.8" y2="196.3" stroke="#333" stroke-width="0.8"/>
<line x1="233.3" y1="194.3" x2="233.3" y2="196.3" stroke="#333" stroke-width="0.8"/>
<line x1="249" y1="194.3" x2="249" y2="196.3" stroke="#333" stroke-width="0.8"/>
<line x1="264.8" y1="194.3" x2="264.8" y2="196.3" stroke="#333" stroke-width="0.8"/>
<line x1="280.5" y1="194.3" x2="280.5" y2="196.3" stroke="#333" stroke-width="0.8"/>
<line x1="190.79" y1="194.3" x2="190.79" y2="195.5" stroke="#333" stroke-width="0.6400000000000001"/>
<line x1="193.59" y1="194.3" x2="193.59" y2="195.5" stroke="#333" stroke-width="0.6400000000000001"/>
<line x1="195.57" y1="194.3" x2="195.57" y2="195.5" stroke="#333" stroke-width="0.6400000000000001"/>
<line x1="197.11" y1="194.3" x2="197.11" y2="195.5" stroke="#333" stroke-width="0.6400000000000001"/>
<line x1="198.37" y1="194.3" x2="198.37" y2="195.5" stroke="#333" stroke-width="0.6400000000000001"/>
<line x1="199.44" y1="194.3" x2="199.44" y2="195.5" stroke="#333" stroke-width="0.6400000000000001"/>
<line x1="200.36" y1="194.3" x2="200.36" y2="195.5" stroke="#333" stroke-width="0.6400000000000001"/>
<line x1="201.17" y1="194.3" x2="201.17" y2="195.5" stroke="#333" stroke-width="0.6400000000000001"/>
<line x1="206.69" y1="194.3" x2="206.69" y2="195.5" stroke="#333" stroke-width="0.6400000000000001"/>
<line x1="209.49" y1="194.3" x2="209.49" y2="195.5" stroke="#333" stroke-width="0.6400000000000001"/>
<line x1="211.47" y1="194.3" x2="211.47" y2="195.5" stroke="#333" stroke-width="0.6400000000000001"/>
<line x1="213.01" y1="194.3" x2="213.01" y2="195.5" stroke="#333" stroke-width="0.6400000000000001"/>
<line x1="214.27" y1="194.3" x2="214.27" y2="195.5" stroke="#333" stroke-width="0.6400000000000001"/>
<line x1="215.34" y1="194.3" x2="215.34" y2="195.5" stroke="#333" stroke-width="0.6400000000000001"/>
<line x1="216.26" y1="194.3" x2="216.26" y2="195.5" stroke="#333" stroke-width="0.6400000000000001"/>
<line x1="217.07" y1="194.3" x2="217.07" y2="195.5" stroke="#333" stroke-width="0.6400000000000001"/>
<line x1="222.59" y1="194.3" x2="222.59" y2="195.5" stroke="#333" stroke-width="0.6400000000000001"/>
<line x1="225.39" y1="194.3" x2="225.39" y2="195.5" stroke="#333" stroke-width="0.6400000000000001"/>
<line x1="227.37" y1="194.3" x2="227.37" y2="195.5" stroke="#333" stroke-width="0.6400000000000001"/>
<line x1="228.91" y1="194.3" x2="228.91" y2="195.5" stroke="#333" stroke-width="0.6400000000000001"/>
<line x1="230.17" y1="194.3" x2="230.17" y2="195.5" stroke="#333" stroke-width="0.6400000000000001"/>
<line x1="231.24" y1="194.3" x2="231.24" y2="195.5" stroke="#333" stroke-width="0.6400000000000001"/>
<line x1="232.16" y1="194.3" x2="232.16" y2="195.5" stroke="#333" stroke-width="0.6400000000000001"/>
<line x1="232.97" y1="194.3" x2="232.97" y2="195.5" stroke="#333" stroke-width="0.6400000000000001"/>
<line x1="238.49" y1="194.3" x2="238.49" y2="195.5" stroke="#333" stroke-width="0.6400000000000001"/>
<line x1="241.29" y1="194.3" x2="241.29" y2="195.5" stroke="#333" stroke-width="0.6400000000000001"/>
<line x1="243.27" y1="194.3" x2="243.27" y2="195.5" stroke="#333" stroke-width="0.6400000000000001"/>
<line x1="244.81" y1="194.3" x2="244.81" y2="195.5" stroke="#333" stroke-width="0.6400000000000001"/>
<line x1="246.07" y1="194.3" x2="246.07" y2="195.5" stroke="#333" stroke-width="0.6400000000000001"/>
<line x1="247.14" y1="194.3" x2="247.14" y2="195.5" stroke="#333" stroke-width="0.6400000000000001"/>
<line x1="248.06" y1="194.3" x2="248.06" y2="195.5" stroke="#333" stroke-width="0.6400000000000001"/>
<line x1="248.87" y1="194.3" x2="248.87" y2="195.5" stroke="#333" stroke-width="0.6400000000000001"/>
<line x1="254.39" y1="194.3" x2="254.39" y2="195.5" stroke="#333" stroke-width="0.6400000000000001"/>
<line x1="257.19" y1="194.3" x2="257.19" y2="195.5" stroke="#333" stroke-width="0.6400000000000001"/>
<line x1="259.17" y1="194.3" x2="259.17" y2="195.5" stroke="#333" stroke-width="0.6400000000000001"/>
<line x1="260.71" y1="194.3" x2="260.71" y2="195.5" stroke="#333" stroke-width="0.6400000000000001"/>
<line x1="261.97" y1="194.3" x2="261.97" y2="195.5" stroke="#333" stroke-width="0.6400000000000001"/>
<line x1="263.04" y1="194.3" x2="263.04" y2="195.5" stroke="#333" stroke-width="0.6400000000000001"/>
<line x1="263.96" y1="194.3" x2="263.96" y2="195.5" stroke="#333" stroke-width="0.6400000000000001"/>
<line x1="264.77" y1="194.3" x2="264.77" y2="195.5" stroke="#333" stroke-width="0.6400000000000001"/>
<line x1="270.29" y1="194.3" x2="270.29" y2="195.5" stroke="#333" stroke-width="0.6400000000000001"/>
<line x1="273.09" y1="194.3" x2="273.09" y2="195.5" stroke="#333" stroke-width="0.6400000000000001"/>
<line x1="275.07" y1="194.3" x2="275.07" y2="195.5" stroke="#333" stroke-width="0.6400000000000001"/>
<line x1="276.61" y1="194.3" x2="276.61" y2="195.5" stroke="#333" stroke-width="0.6400000000000001"/>
<line x1="277.87" y1="194.3" x2="277.87" y2="195.5" stroke="#333" stroke-width="0.6400000000000001"/>
<line x1="278.94" y1="194.3" x2="278.94" y2="195.5" stroke="#333" stroke-width="0.6400000000000001"/>
<line x1="279.86" y1="194.3" x2="279.86" y2="195.5" stroke="#333" stroke-width="0.6400000000000001"/>
<line x1="280.67" y1="194.3" x2="280.67" y2="195.5" stroke="#333" stroke-width="0.6400000000000001"/>
<text x="186" y="203.76" font-size="6.3" text-anchor="middle" fill="#231f20">0.01</text>
<text x="201.8" y="203.76" font-size="6.3" text-anchor="middle" fill="#231f20">0.1</text>
<text x="217.8" y="203.76" font-size="6.3" text-anchor="middle" fill="#231f20">1</text>
<text x="233.3" y="203.76" font-size="6.3" text-anchor="middle" fill="#231f20">10</text>
<text x="249" y="203.76" font-size="6.3" text-anchor="middle" fill="#231f20">100</text>
<text x="264.8" y="203.76" font-size="6.3" text-anchor="middle" fill="#231f20">1,000</text>
<text x="284" y="203.76" font-size="6.3" text-anchor="middle" fill="#231f20">10,000</text>
<text transform="translate(170.91,161.4) rotate(-90)" x="0" y="0" font-size="7" text-anchor="middle" fill="#231f20">Viable (%)</text>
<text x="232.7" y="213.81" font-size="7" text-anchor="middle" fill="#231f20">Antibody concentration (ng/mL)</text>
<polyline points="186,138.83 187.01,138.91 188.02,139 189.02,139.11 190.03,139.25 191.04,139.42 192.05,139.62 193.05,139.87 194.06,140.16 195.07,140.52 196.08,140.96 197.08,141.48 198.09,142.1 199.1,142.84 200.11,143.72 201.11,144.75 202.12,145.96 203.13,147.36 204.14,148.96 205.14,150.78 206.15,152.81 207.16,155.05 208.17,157.47 209.17,160.06 210.18,162.76 211.19,165.54 212.2,168.32 213.21,171.07 214.21,173.72 215.22,176.24 216.23,178.57 217.24,180.71 218.24,182.64 219.25,184.35 220.26,185.85 221.27,187.15 222.27,188.27 223.28,189.22 224.29,190.03 225.3,190.71 226.3,191.28 227.31,191.76 228.32,192.15 229.33,192.48 230.33,192.75 231.34,192.98 232.35,193.16 233.36,193.31 234.36,193.44 235.37,193.54 236.38,193.62 237.39,193.69 238.39,193.75 239.4,193.79 240.41,193.83 241.42,193.86 242.43,193.89 243.43,193.91 244.44,193.93 245.45,193.94 246.46,193.95 247.46,193.96 248.47,193.97 249.48,193.97 250.49,193.98 251.49,193.98 252.5,193.99 253.51,193.99 254.52,193.99 255.52,193.99 256.53,194 257.54,194 258.55,194 259.55,194 260.56,194 261.57,194 262.58,194 263.58,194 264.59,194 265.6,194" fill="none" stroke="#3c4ca4" stroke-width="0.9" stroke-linejoin="round"/>
<polyline points="186,140.8 187.21,140.8 188.42,140.8 189.63,140.8 190.84,140.8 192.04,140.8 193.25,140.8 194.46,140.8 195.67,140.8 196.88,140.8 198.09,140.81 199.3,140.81 200.51,140.81 201.72,140.81 202.92,140.81 204.13,140.81 205.34,140.81 206.55,140.81 207.76,140.81 208.97,140.82 210.18,140.82 211.39,140.82 212.59,140.83 213.8,140.83 215.01,140.84 216.22,140.85 217.43,140.86 218.64,140.87 219.85,140.89 221.06,140.9 222.27,140.93 223.47,140.95 224.68,140.98 225.89,141.02 227.1,141.07 228.31,141.12 229.52,141.19 230.73,141.27 231.94,141.37 233.15,141.49 234.35,141.63 235.56,141.8 236.77,142.01 237.98,142.25 239.19,142.55 240.4,142.9 241.61,143.31 242.82,143.8 244.03,144.38 245.23,145.05 246.44,145.84 247.65,146.74 248.86,147.77 250.07,148.94 251.28,150.25 252.49,151.7 253.7,153.27 254.91,154.95 256.11,156.73 257.32,158.58 258.53,160.46 259.74,162.34 260.95,164.18 262.16,165.96 263.37,167.64 264.58,169.21 265.78,170.66 266.99,171.96 268.2,173.13 269.41,174.16 270.62,175.06 271.83,175.84 273.04,176.51 274.25,177.09 275.46,177.58 276.66,177.99 277.87,178.34 279.08,178.63 280.29,178.88 281.5,179.08" fill="none" stroke="#0f9e66" stroke-width="0.9" stroke-linejoin="round"/>
<rect x="191.45" y="141.75" width="2.5" height="2.5" fill="#0f9e66"/>
<rect x="202.45" y="139.65" width="2.5" height="2.5" fill="#0f9e66"/>
<rect x="213.65" y="138.95" width="2.5" height="2.5" fill="#0f9e66"/>
<rect x="224.85" y="139.65" width="2.5" height="2.5" fill="#0f9e66"/>
<rect x="235.45" y="140.65" width="2.5" height="2.5" fill="#0f9e66"/>
<rect x="246.85" y="146.55" width="2.5" height="2.5" fill="#0f9e66"/>
<rect x="258.05" y="159.75" width="2.5" height="2.5" fill="#0f9e66"/>
<rect x="269.25" y="176.05" width="2.5" height="2.5" fill="#0f9e66"/>
<rect x="280.25" y="177.05" width="2.5" height="2.5" fill="#0f9e66"/>
<line x1="192.7" y1="140.5" x2="192.7" y2="146" stroke="#0f9e66" stroke-width="0.7"/>
<line x1="191.1" y1="140.5" x2="194.3" y2="140.5" stroke="#0f9e66" stroke-width="0.7"/>
<line x1="191.1" y1="146" x2="194.3" y2="146" stroke="#0f9e66" stroke-width="0.7"/>
<line x1="236.7" y1="139.2" x2="236.7" y2="144" stroke="#0f9e66" stroke-width="0.7"/>
<line x1="235.1" y1="139.2" x2="238.3" y2="139.2" stroke="#0f9e66" stroke-width="0.7"/>
<line x1="235.1" y1="144" x2="238.3" y2="144" stroke="#0f9e66" stroke-width="0.7"/>
<rect x="186.2" y="136.4" width="2.6" height="2.6" fill="#3c4ca4"/>
<rect x="198.6" y="143.7" width="2.6" height="2.6" fill="#3c4ca4"/>
<rect x="209.1" y="161.2" width="2.6" height="2.6" fill="#3c4ca4"/>
<rect x="220.1" y="187.4" width="2.6" height="2.6" fill="#3c4ca4"/>
<rect x="231.4" y="192.2" width="2.6" height="2.6" fill="#3c4ca4"/>
<rect x="242.2" y="192.3" width="2.6" height="2.6" fill="#3c4ca4"/>
<rect x="253" y="192.1" width="2.6" height="2.6" fill="#3c4ca4"/>
<rect x="264.3" y="191.7" width="2.6" height="2.6" fill="#3c4ca4"/>
<line x1="199.9" y1="143" x2="199.9" y2="147" stroke="#3c4ca4" stroke-width="0.7"/>
<line x1="198.3" y1="143" x2="201.5" y2="143" stroke="#3c4ca4" stroke-width="0.7"/>
<line x1="198.3" y1="147" x2="201.5" y2="147" stroke="#3c4ca4" stroke-width="0.7"/>
<line x1="210.4" y1="159.5" x2="210.4" y2="165" stroke="#3c4ca4" stroke-width="0.7"/>
<line x1="208.8" y1="159.5" x2="212" y2="159.5" stroke="#3c4ca4" stroke-width="0.7"/>
<line x1="208.8" y1="165" x2="212" y2="165" stroke="#3c4ca4" stroke-width="0.7"/>
<line x1="265.6" y1="191.2" x2="265.6" y2="193.7" stroke="#3c4ca4" stroke-width="0.7"/>
<line x1="264" y1="191.2" x2="267.2" y2="191.2" stroke="#3c4ca4" stroke-width="0.7"/>
<line x1="264" y1="193.7" x2="267.2" y2="193.7" stroke="#3c4ca4" stroke-width="0.7"/>
<rect x="186.3" y="135.3" width="2.4" height="2.4" fill="#3c4ca4"/>
<line x1="319.4" y1="31.3" x2="319.4" y2="95.6" stroke="#333" stroke-width="0.8"/>
<line x1="317.4" y1="95.2" x2="319.4" y2="95.2" stroke="#333" stroke-width="0.8"/>
<text x="316.9" y="97.46" font-size="6.3" text-anchor="end" fill="#231f20">0</text>
<line x1="317.4" y1="73.9" x2="319.4" y2="73.9" stroke="#333" stroke-width="0.8"/>
<text x="316.9" y="76.16" font-size="6.3" text-anchor="end" fill="#231f20">10</text>
<line x1="317.4" y1="52.6" x2="319.4" y2="52.6" stroke="#333" stroke-width="0.8"/>
<text x="316.9" y="54.86" font-size="6.3" text-anchor="end" fill="#231f20">20</text>
<line x1="317.4" y1="31.3" x2="319.4" y2="31.3" stroke="#333" stroke-width="0.8"/>
<text x="316.9" y="33.56" font-size="6.3" text-anchor="end" fill="#231f20">30</text>
<line x1="319" y1="95.2" x2="415" y2="95.2" stroke="#333" stroke-width="0.8"/>
<line x1="334.6" y1="95.2" x2="334.6" y2="97.2" stroke="#333" stroke-width="0.8"/>
<text x="334.6" y="103.86" font-size="6.6" text-anchor="middle" fill="#231f20">1</text>
<line x1="367.2" y1="95.2" x2="367.2" y2="97.2" stroke="#333" stroke-width="0.8"/>
<text x="367.2" y="103.86" font-size="6.6" text-anchor="middle" fill="#231f20">3</text>
<line x1="400.3" y1="95.2" x2="400.3" y2="97.2" stroke="#333" stroke-width="0.8"/>
<text x="400.3" y="103.86" font-size="6.6" text-anchor="middle" fill="#231f20">6</text>
<text x="366.6" y="113.84" font-size="7.1" text-anchor="middle" fill="#231f20">Time (h)</text>
<rect x="321.85" y="87.1" width="4.5" height="8.1" fill="#0f9e66"/>
<line x1="324.1" y1="87.1" x2="324.1" y2="86.2" stroke="#0f9e66" stroke-width="0.7"/>
<line x1="322.9" y1="86.2" x2="325.3" y2="86.2" stroke="#0f9e66" stroke-width="0.7"/>
<rect x="328.75" y="88.9" width="4.5" height="6.3" fill="#3c4ca4"/>
<line x1="331" y1="88.9" x2="331" y2="87.6" stroke="#3c4ca4" stroke-width="0.7"/>
<line x1="329.8" y1="87.6" x2="332.2" y2="87.6" stroke="#3c4ca4" stroke-width="0.7"/>
<rect x="335.85" y="87.8" width="4.5" height="7.4" fill="#111"/>
<line x1="338.1" y1="87.8" x2="338.1" y2="86.9" stroke="#111" stroke-width="0.7"/>
<line x1="336.9" y1="86.9" x2="339.3" y2="86.9" stroke="#111" stroke-width="0.7"/>
<rect x="343.4" y="86.25" width="3.6" height="8.95" fill="white" stroke="#111" stroke-width="0.9"/>
<line x1="345.2" y1="85.8" x2="345.2" y2="84.9" stroke="#111" stroke-width="0.7"/>
<line x1="344" y1="84.9" x2="346.4" y2="84.9" stroke="#111" stroke-width="0.7"/>
<rect x="354.45" y="87.5" width="4.5" height="7.7" fill="#0f9e66"/>
<line x1="356.7" y1="87.5" x2="356.7" y2="86.7" stroke="#0f9e66" stroke-width="0.7"/>
<line x1="355.5" y1="86.7" x2="357.9" y2="86.7" stroke="#0f9e66" stroke-width="0.7"/>
<rect x="361.35" y="71.9" width="4.5" height="23.3" fill="#3c4ca4"/>
<rect x="368.45" y="87.5" width="4.5" height="7.7" fill="#111"/>
<line x1="370.7" y1="87.5" x2="370.7" y2="86.6" stroke="#111" stroke-width="0.7"/>
<line x1="369.5" y1="86.6" x2="371.9" y2="86.6" stroke="#111" stroke-width="0.7"/>
<rect x="376" y="87.55" width="3.6" height="7.65" fill="white" stroke="#111" stroke-width="0.9"/>
<line x1="377.8" y1="87.1" x2="377.8" y2="86.3" stroke="#111" stroke-width="0.7"/>
<line x1="376.6" y1="86.3" x2="379" y2="86.3" stroke="#111" stroke-width="0.7"/>
<rect x="387.55" y="86.6" width="4.5" height="8.6" fill="#0f9e66"/>
<line x1="389.8" y1="86.6" x2="389.8" y2="85.9" stroke="#0f9e66" stroke-width="0.7"/>
<line x1="388.6" y1="85.9" x2="391" y2="85.9" stroke="#0f9e66" stroke-width="0.7"/>
<rect x="394.45" y="46.8" width="4.5" height="48.4" fill="#3c4ca4"/>
<line x1="396.7" y1="46.8" x2="396.7" y2="42.2" stroke="#3c4ca4" stroke-width="0.7"/>
<line x1="395.5" y1="42.2" x2="397.9" y2="42.2" stroke="#3c4ca4" stroke-width="0.7"/>
<rect x="401.55" y="87.9" width="4.5" height="7.3" fill="#111"/>
<line x1="403.8" y1="87.9" x2="403.8" y2="86.8" stroke="#111" stroke-width="0.7"/>
<line x1="402.6" y1="86.8" x2="405" y2="86.8" stroke="#111" stroke-width="0.7"/>
<rect x="409.1" y="88.95" width="3.6" height="6.25" fill="white" stroke="#111" stroke-width="0.9"/>
<line x1="410.9" y1="88.5" x2="410.9" y2="87.6" stroke="#111" stroke-width="0.7"/>
<line x1="409.7" y1="87.6" x2="412.1" y2="87.6" stroke="#111" stroke-width="0.7"/>
<line x1="320.1" y1="130.4" x2="320.1" y2="194.8" stroke="#333" stroke-width="0.8"/>
<line x1="318.1" y1="194.4" x2="320.1" y2="194.4" stroke="#333" stroke-width="0.8"/>
<text x="317.6" y="196.66" font-size="6.3" text-anchor="end" fill="#231f20">0</text>
<line x1="318.1" y1="178.4" x2="320.1" y2="178.4" stroke="#333" stroke-width="0.8"/>
<text x="317.6" y="180.66" font-size="6.3" text-anchor="end" fill="#231f20">5</text>
<line x1="318.1" y1="162.4" x2="320.1" y2="162.4" stroke="#333" stroke-width="0.8"/>
<text x="317.6" y="164.66" font-size="6.3" text-anchor="end" fill="#231f20">10</text>
<line x1="318.1" y1="146.4" x2="320.1" y2="146.4" stroke="#333" stroke-width="0.8"/>
<text x="317.6" y="148.66" font-size="6.3" text-anchor="end" fill="#231f20">15</text>
<line x1="318.1" y1="130.4" x2="320.1" y2="130.4" stroke="#333" stroke-width="0.8"/>
<text x="317.6" y="132.66" font-size="6.3" text-anchor="end" fill="#231f20">20</text>
<line x1="319.7" y1="194.4" x2="416.2" y2="194.4" stroke="#333" stroke-width="0.8"/>
<line x1="335.8" y1="194.4" x2="335.8" y2="196.4" stroke="#333" stroke-width="0.8"/>
<text x="335.8" y="203.76" font-size="6.6" text-anchor="middle" fill="#231f20">1</text>
<line x1="368.4" y1="194.4" x2="368.4" y2="196.4" stroke="#333" stroke-width="0.8"/>
<text x="368.4" y="203.76" font-size="6.6" text-anchor="middle" fill="#231f20">3</text>
<line x1="401.5" y1="194.4" x2="401.5" y2="196.4" stroke="#333" stroke-width="0.8"/>
<text x="401.5" y="203.76" font-size="6.6" text-anchor="middle" fill="#231f20">6</text>
<text x="367.8" y="212.94" font-size="7.1" text-anchor="middle" fill="#231f20">Time (h)</text>
<rect x="323.05" y="189.5" width="4.5" height="4.9" fill="#0f9e66"/>
<line x1="325.3" y1="189.5" x2="325.3" y2="187.8" stroke="#0f9e66" stroke-width="0.7"/>
<line x1="324.1" y1="187.8" x2="326.5" y2="187.8" stroke="#0f9e66" stroke-width="0.7"/>
<rect x="329.95" y="193" width="4.5" height="1.4" fill="#3c4ca4"/>
<line x1="332.2" y1="193" x2="332.2" y2="192.3" stroke="#3c4ca4" stroke-width="0.7"/>
<line x1="331" y1="192.3" x2="333.4" y2="192.3" stroke="#3c4ca4" stroke-width="0.7"/>
<rect x="337.05" y="189.3" width="4.5" height="5.1" fill="#111"/>
<line x1="339.3" y1="189.3" x2="339.3" y2="188.8" stroke="#111" stroke-width="0.7"/>
<line x1="338.1" y1="188.8" x2="340.5" y2="188.8" stroke="#111" stroke-width="0.7"/>
<rect x="344.6" y="192.15" width="3.6" height="2.25" fill="white" stroke="#111" stroke-width="0.9"/>
<rect x="355.65" y="189.3" width="4.5" height="5.1" fill="#0f9e66"/>
<line x1="357.9" y1="189.3" x2="357.9" y2="186.3" stroke="#0f9e66" stroke-width="0.7"/>
<line x1="356.7" y1="186.3" x2="359.1" y2="186.3" stroke="#0f9e66" stroke-width="0.7"/>
<rect x="362.55" y="175" width="4.5" height="19.4" fill="#3c4ca4"/>
<line x1="364.8" y1="175" x2="364.8" y2="170" stroke="#3c4ca4" stroke-width="0.7"/>
<line x1="363.6" y1="170" x2="366" y2="170" stroke="#3c4ca4" stroke-width="0.7"/>
<rect x="369.65" y="190" width="4.5" height="4.4" fill="#111"/>
<line x1="371.9" y1="190" x2="371.9" y2="187" stroke="#111" stroke-width="0.7"/>
<line x1="370.7" y1="187" x2="373.1" y2="187" stroke="#111" stroke-width="0.7"/>
<rect x="377.2" y="191.15" width="3.6" height="3.25" fill="white" stroke="#111" stroke-width="0.9"/>
<rect x="388.75" y="188.8" width="4.5" height="5.6" fill="#0f9e66"/>
<rect x="395.65" y="148" width="4.5" height="46.4" fill="#3c4ca4"/>
<line x1="397.9" y1="148" x2="397.9" y2="134.5" stroke="#3c4ca4" stroke-width="0.7"/>
<line x1="396.7" y1="134.5" x2="399.1" y2="134.5" stroke="#3c4ca4" stroke-width="0.7"/>
<rect x="402.75" y="190.5" width="4.5" height="3.9" fill="#111"/>
<line x1="405" y1="190.5" x2="405" y2="187.5" stroke="#111" stroke-width="0.7"/>
<line x1="403.8" y1="187.5" x2="406.2" y2="187.5" stroke="#111" stroke-width="0.7"/>
<rect x="410.3" y="190.95" width="3.6" height="3.45" fill="white" stroke="#111" stroke-width="0.9"/>
<text transform="translate(305.03,61.2) rotate(-90)" x="0" y="0" font-size="6.8" text-anchor="middle" fill="#231f20">Percentage of Annexin V<tspan font-size="4.6" dy="-2.6">+</tspan><tspan dy="2.6">/PI</tspan><tspan font-size="4.6" dy="-2.6">&#8211;</tspan></text>
<text transform="translate(306.23,163.5) rotate(-90)" x="0" y="0" font-size="6.8" text-anchor="middle" fill="#231f20">Percentage of Annexin V<tspan font-size="4.6" dy="-2.6">+</tspan><tspan dy="2.6">/PI</tspan><tspan font-size="4.6" dy="-2.6">&#8211;</tspan></text>
<rect x="434" y="85.8" width="14.3" height="6.9" fill="#3c4ca4"/>
<text x="454.6" y="93.97" font-size="11.1" text-anchor="start" fill="#231f20">IGM-8444</text>
<rect x="434" y="109.7" width="14.3" height="6.9" fill="#0f9e66"/>
<text x="454.6" y="117.87" font-size="11.1" text-anchor="start" fill="#231f20">Anti-DR5 IgG</text>
<rect x="434.5" y="133.4" width="13.5" height="5.9" fill="white" stroke="#111" stroke-width="1.2"/>
<text x="454.6" y="140.37" font-size="11.1" text-anchor="start" fill="#231f20">IgM isotype</text>
<rect x="434" y="154.8" width="14.3" height="6.9" fill="#111"/>
<text x="454.6" y="162.07" font-size="11.1" text-anchor="start" fill="#231f20">IgG isotype</text>
<line x1="48.3" y1="265.8" x2="48.3" y2="332.7" stroke="#333" stroke-width="0.8"/>
<line x1="46.3" y1="332.3" x2="48.3" y2="332.3" stroke="#333" stroke-width="0.8"/>
<text x="45.8" y="334.66" font-size="6.6" text-anchor="end" fill="#231f20">0</text>
<line x1="46.3" y1="319" x2="48.3" y2="319" stroke="#333" stroke-width="0.8"/>
<text x="45.8" y="321.36" font-size="6.6" text-anchor="end" fill="#231f20">2</text>
<line x1="46.3" y1="305.7" x2="48.3" y2="305.7" stroke="#333" stroke-width="0.8"/>
<text x="45.8" y="308.06" font-size="6.6" text-anchor="end" fill="#231f20">4</text>
<line x1="46.3" y1="292.4" x2="48.3" y2="292.4" stroke="#333" stroke-width="0.8"/>
<text x="45.8" y="294.76" font-size="6.6" text-anchor="end" fill="#231f20">6</text>
<line x1="46.3" y1="279.1" x2="48.3" y2="279.1" stroke="#333" stroke-width="0.8"/>
<text x="45.8" y="281.46" font-size="6.6" text-anchor="end" fill="#231f20">8</text>
<line x1="46.3" y1="265.8" x2="48.3" y2="265.8" stroke="#333" stroke-width="0.8"/>
<text x="45.8" y="268.16" font-size="6.6" text-anchor="end" fill="#231f20">10</text>
<line x1="47.9" y1="332.3" x2="144.5" y2="332.3" stroke="#333" stroke-width="0.8"/>
<line x1="58" y1="332.3" x2="58" y2="334.3" stroke="#333" stroke-width="0.8"/>
<text x="58" y="340.96" font-size="6.6" text-anchor="middle" fill="#231f20">0.5</text>
<line x1="77.95" y1="332.3" x2="77.95" y2="334.3" stroke="#333" stroke-width="0.8"/>
<text x="77.95" y="340.96" font-size="6.6" text-anchor="middle" fill="#231f20">1</text>
<line x1="97.9" y1="332.3" x2="97.9" y2="334.3" stroke="#333" stroke-width="0.8"/>
<text x="97.9" y="340.96" font-size="6.6" text-anchor="middle" fill="#231f20">2</text>
<line x1="117.85" y1="332.3" x2="117.85" y2="334.3" stroke="#333" stroke-width="0.8"/>
<text x="117.85" y="340.96" font-size="6.6" text-anchor="middle" fill="#231f20">4</text>
<line x1="137.8" y1="332.3" x2="137.8" y2="334.3" stroke="#333" stroke-width="0.8"/>
<text x="137.8" y="340.96" font-size="6.6" text-anchor="middle" fill="#231f20">6</text>
<text x="97" y="256.68" font-size="7.2" text-anchor="middle" fill="#231f20">Caspase 3/7</text>
<text transform="translate(34.65,298.6) rotate(-90)" x="0" y="0" font-size="7.4" text-anchor="middle" fill="#231f20">Fold change</text>
<text x="96.2" y="351.43" font-size="7.35" text-anchor="middle" fill="#231f20">Time (h)</text>
<polyline points="58,326.98 77.95,326.31 97.9,324.99 117.85,322.32 137.8,313.68" fill="none" stroke="#0f9e66" stroke-width="0.9" stroke-linejoin="round"/>
<polygon points="58,325.42 59.56,328.15 56.44,328.15" fill="#0f9e66"/>
<polygon points="77.95,324.75 79.51,327.49 76.39,327.49" fill="#0f9e66"/>
<polygon points="97.9,323.43 99.46,326.16 96.34,326.16" fill="#0f9e66"/>
<polygon points="117.85,320.76 119.41,323.5 116.29,323.5" fill="#0f9e66"/>
<polygon points="137.8,312.12 139.36,314.85 136.24,314.85" fill="#0f9e66"/>
<polyline points="58,326.65 77.95,325.98 97.9,324.65 117.85,323.32 137.8,322.32" fill="none" stroke="#111" stroke-width="1.05" stroke-linejoin="round" stroke-dasharray="2,1.2"/>
<polyline points="58,327.31 77.95,326.65 97.9,325.65 117.85,323.66 137.8,322.99" fill="none" stroke="#111" stroke-width="1.05" stroke-linejoin="round"/>
<circle cx="58" cy="327.31" r="1.7" fill="#111"/>
<circle cx="77.95" cy="326.65" r="1.7" fill="#111"/>
<circle cx="97.9" cy="325.65" r="1.7" fill="#111"/>
<circle cx="117.85" cy="323.66" r="1.7" fill="#111"/>
<circle cx="137.8" cy="322.99" r="1.7" fill="#111"/>
<polyline points="58,326.98 77.95,321 97.9,296.39 117.85,279.1 137.8,274.44" fill="none" stroke="#3c4ca4" stroke-width="0.9" stroke-linejoin="round"/>
<line x1="77.95" y1="319" x2="77.95" y2="322.99" stroke="#3c4ca4" stroke-width="0.7"/>
<line x1="76.65" y1="319" x2="79.25" y2="319" stroke="#3c4ca4" stroke-width="0.7"/>
<line x1="76.65" y1="322.99" x2="79.25" y2="322.99" stroke="#3c4ca4" stroke-width="0.7"/>
<line x1="97.9" y1="291.07" x2="97.9" y2="301.05" stroke="#3c4ca4" stroke-width="0.7"/>
<line x1="96.6" y1="291.07" x2="99.2" y2="291.07" stroke="#3c4ca4" stroke-width="0.7"/>
<line x1="96.6" y1="301.05" x2="99.2" y2="301.05" stroke="#3c4ca4" stroke-width="0.7"/>
<line x1="137.8" y1="269.79" x2="137.8" y2="279.76" stroke="#3c4ca4" stroke-width="0.7"/>
<line x1="136.5" y1="269.79" x2="139.1" y2="269.79" stroke="#3c4ca4" stroke-width="0.7"/>
<line x1="136.5" y1="279.76" x2="139.1" y2="279.76" stroke="#3c4ca4" stroke-width="0.7"/>
<rect x="56.6" y="325.58" width="2.8" height="2.8" fill="#3c4ca4"/>
<rect x="76.55" y="319.6" width="2.8" height="2.8" fill="#3c4ca4"/>
<rect x="96.5" y="294.99" width="2.8" height="2.8" fill="#3c4ca4"/>
<rect x="116.45" y="277.7" width="2.8" height="2.8" fill="#3c4ca4"/>
<rect x="136.4" y="273.05" width="2.8" height="2.8" fill="#3c4ca4"/>
<line x1="111.4" y1="346.8" x2="111.4" y2="350.8" stroke="#555" stroke-width="0.8"/>
<line x1="185.5" y1="267.1" x2="185.5" y2="332.9" stroke="#333" stroke-width="0.8"/>
<line x1="183.5" y1="332.5" x2="185.5" y2="332.5" stroke="#333" stroke-width="0.8"/>
<text x="183" y="334.86" font-size="6.6" text-anchor="end" fill="#231f20">0</text>
<line x1="183.5" y1="321.6" x2="185.5" y2="321.6" stroke="#333" stroke-width="0.8"/>
<text x="183" y="323.96" font-size="6.6" text-anchor="end" fill="#231f20">1</text>
<line x1="183.5" y1="310.7" x2="185.5" y2="310.7" stroke="#333" stroke-width="0.8"/>
<text x="183" y="313.06" font-size="6.6" text-anchor="end" fill="#231f20">2</text>
<line x1="183.5" y1="299.8" x2="185.5" y2="299.8" stroke="#333" stroke-width="0.8"/>
<text x="183" y="302.16" font-size="6.6" text-anchor="end" fill="#231f20">3</text>
<line x1="183.5" y1="288.9" x2="185.5" y2="288.9" stroke="#333" stroke-width="0.8"/>
<text x="183" y="291.26" font-size="6.6" text-anchor="end" fill="#231f20">4</text>
<line x1="183.5" y1="278" x2="185.5" y2="278" stroke="#333" stroke-width="0.8"/>
<text x="183" y="280.36" font-size="6.6" text-anchor="end" fill="#231f20">5</text>
<line x1="183.5" y1="267.1" x2="185.5" y2="267.1" stroke="#333" stroke-width="0.8"/>
<text x="183" y="269.46" font-size="6.6" text-anchor="end" fill="#231f20">6</text>
<line x1="185.1" y1="332.5" x2="280.5" y2="332.5" stroke="#333" stroke-width="0.8"/>
<line x1="195.4" y1="332.5" x2="195.4" y2="334.5" stroke="#333" stroke-width="0.8"/>
<text x="195.4" y="340.96" font-size="6.6" text-anchor="middle" fill="#231f20">0.5</text>
<line x1="215.05" y1="332.5" x2="215.05" y2="334.5" stroke="#333" stroke-width="0.8"/>
<text x="215.05" y="340.96" font-size="6.6" text-anchor="middle" fill="#231f20">1</text>
<line x1="234.7" y1="332.5" x2="234.7" y2="334.5" stroke="#333" stroke-width="0.8"/>
<text x="234.7" y="340.96" font-size="6.6" text-anchor="middle" fill="#231f20">2</text>
<line x1="254.35" y1="332.5" x2="254.35" y2="334.5" stroke="#333" stroke-width="0.8"/>
<text x="254.35" y="340.96" font-size="6.6" text-anchor="middle" fill="#231f20">4</text>
<line x1="274" y1="332.5" x2="274" y2="334.5" stroke="#333" stroke-width="0.8"/>
<text x="274" y="340.96" font-size="6.6" text-anchor="middle" fill="#231f20">6</text>
<text x="232" y="257.18" font-size="7.2" text-anchor="middle" fill="#231f20">Caspase 8</text>
<text transform="translate(176.05,299.5) rotate(-90)" x="0" y="0" font-size="7.4" text-anchor="middle" fill="#231f20">Fold change</text>
<text x="235.6" y="351.63" font-size="7.35" text-anchor="middle" fill="#231f20">Time (h)</text>
<polyline points="195.4,324.32 215.05,323.78 234.7,323.24 254.35,322.14 274,321.06" fill="none" stroke="#0f9e66" stroke-width="0.9" stroke-linejoin="round"/>
<polygon points="195.4,322.76 196.96,325.5 193.84,325.5" fill="#0f9e66"/>
<polygon points="215.05,322.22 216.61,324.95 213.49,324.95" fill="#0f9e66"/>
<polygon points="234.7,321.68 236.26,324.41 233.14,324.41" fill="#0f9e66"/>
<polygon points="254.35,320.58 255.91,323.31 252.79,323.31" fill="#0f9e66"/>
<polygon points="274,319.5 275.56,322.23 272.44,322.23" fill="#0f9e66"/>
<polyline points="195.4,323.24 215.05,323.78 234.7,323.78 254.35,323.24 274,323.24" fill="none" stroke="#111" stroke-width="1.05" stroke-linejoin="round" stroke-dasharray="2,1.2"/>
<polyline points="195.4,323.78 215.05,324.65 234.7,324.32 254.35,323.78 274,323.24" fill="none" stroke="#111" stroke-width="1.05" stroke-linejoin="round"/>
<circle cx="195.4" cy="323.78" r="1.7" fill="#111"/>
<circle cx="215.05" cy="324.65" r="1.7" fill="#111"/>
<circle cx="234.7" cy="324.32" r="1.7" fill="#111"/>
<circle cx="254.35" cy="323.78" r="1.7" fill="#111"/>
<circle cx="274" cy="323.24" r="1.7" fill="#111"/>
<polyline points="195.4,323.78 215.05,323.24 234.7,318.33 254.35,295.99 274,276.37" fill="none" stroke="#3c4ca4" stroke-width="0.9" stroke-linejoin="round"/>
<line x1="274" y1="272.55" x2="274" y2="280.18" stroke="#3c4ca4" stroke-width="0.7"/>
<line x1="272.7" y1="272.55" x2="275.3" y2="272.55" stroke="#3c4ca4" stroke-width="0.7"/>
<line x1="272.7" y1="280.18" x2="275.3" y2="280.18" stroke="#3c4ca4" stroke-width="0.7"/>
<rect x="194" y="322.38" width="2.8" height="2.8" fill="#3c4ca4"/>
<rect x="213.65" y="321.84" width="2.8" height="2.8" fill="#3c4ca4"/>
<rect x="233.3" y="316.93" width="2.8" height="2.8" fill="#3c4ca4"/>
<rect x="252.95" y="294.59" width="2.8" height="2.8" fill="#3c4ca4"/>
<rect x="272.6" y="274.97" width="2.8" height="2.8" fill="#3c4ca4"/>
<line x1="321" y1="267" x2="321" y2="332.8" stroke="#333" stroke-width="0.8"/>
<line x1="319" y1="332.3" x2="321" y2="332.3" stroke="#333" stroke-width="0.8"/>
<text x="318.5" y="334.66" font-size="6.6" text-anchor="end" fill="#231f20">0</text>
<line x1="319" y1="321.4" x2="321" y2="321.4" stroke="#333" stroke-width="0.8"/>
<text x="318.5" y="323.76" font-size="6.6" text-anchor="end" fill="#231f20">1</text>
<line x1="319" y1="310.5" x2="321" y2="310.5" stroke="#333" stroke-width="0.8"/>
<text x="318.5" y="312.86" font-size="6.6" text-anchor="end" fill="#231f20">2</text>
<line x1="319" y1="299.6" x2="321" y2="299.6" stroke="#333" stroke-width="0.8"/>
<text x="318.5" y="301.96" font-size="6.6" text-anchor="end" fill="#231f20">3</text>
<line x1="319" y1="288.7" x2="321" y2="288.7" stroke="#333" stroke-width="0.8"/>
<text x="318.5" y="291.06" font-size="6.6" text-anchor="end" fill="#231f20">4</text>
<line x1="319" y1="277.8" x2="321" y2="277.8" stroke="#333" stroke-width="0.8"/>
<text x="318.5" y="280.16" font-size="6.6" text-anchor="end" fill="#231f20">5</text>
<line x1="319" y1="266.9" x2="321" y2="266.9" stroke="#333" stroke-width="0.8"/>
<text x="318.5" y="269.26" font-size="6.6" text-anchor="end" fill="#231f20">6</text>
<line x1="320.6" y1="332.4" x2="419.8" y2="332.4" stroke="#333" stroke-width="0.8"/>
<line x1="330.9" y1="332.4" x2="330.9" y2="334.4" stroke="#333" stroke-width="0.8"/>
<text x="330.9" y="340.96" font-size="6.6" text-anchor="middle" fill="#231f20">0.5</text>
<line x1="350.65" y1="332.4" x2="350.65" y2="334.4" stroke="#333" stroke-width="0.8"/>
<text x="350.65" y="340.96" font-size="6.6" text-anchor="middle" fill="#231f20">1</text>
<line x1="370.4" y1="332.4" x2="370.4" y2="334.4" stroke="#333" stroke-width="0.8"/>
<text x="370.4" y="340.96" font-size="6.6" text-anchor="middle" fill="#231f20">2</text>
<line x1="390.15" y1="332.4" x2="390.15" y2="334.4" stroke="#333" stroke-width="0.8"/>
<text x="390.15" y="340.96" font-size="6.6" text-anchor="middle" fill="#231f20">4</text>
<line x1="409.9" y1="332.4" x2="409.9" y2="334.4" stroke="#333" stroke-width="0.8"/>
<text x="409.9" y="340.96" font-size="6.6" text-anchor="middle" fill="#231f20">6</text>
<text x="365.3" y="257.58" font-size="7.2" text-anchor="middle" fill="#231f20">Caspase 9</text>
<text transform="translate(311.05,298.6) rotate(-90)" x="0" y="0" font-size="7.4" text-anchor="middle" fill="#231f20">Fold change</text>
<text x="370" y="351.63" font-size="7.35" text-anchor="middle" fill="#231f20">Time (h)</text>
<polyline points="330.9,322.49 350.65,322.49 370.4,321.94 390.15,318.68 409.9,315.95" fill="none" stroke="#0f9e66" stroke-width="0.9" stroke-linejoin="round"/>
<polygon points="330.9,320.93 332.46,323.66 329.34,323.66" fill="#0f9e66"/>
<polygon points="350.65,320.93 352.21,323.66 349.09,323.66" fill="#0f9e66"/>
<polygon points="370.4,320.38 371.96,323.12 368.84,323.12" fill="#0f9e66"/>
<polygon points="390.15,317.12 391.71,319.85 388.59,319.85" fill="#0f9e66"/>
<polygon points="409.9,314.39 411.46,317.12 408.34,317.12" fill="#0f9e66"/>
<polyline points="330.9,321.94 350.65,321.94 370.4,321.94 390.15,321.4 409.9,320.86" fill="none" stroke="#111" stroke-width="1.05" stroke-linejoin="round" stroke-dasharray="2,1.2"/>
<polyline points="330.9,323.04 350.65,323.04 370.4,322.49 390.15,321.94 409.9,321.94" fill="none" stroke="#111" stroke-width="1.05" stroke-linejoin="round"/>
<circle cx="330.9" cy="323.04" r="1.7" fill="#111"/>
<circle cx="350.65" cy="323.04" r="1.7" fill="#111"/>
<circle cx="370.4" cy="322.49" r="1.7" fill="#111"/>
<circle cx="390.15" cy="321.94" r="1.7" fill="#111"/>
<circle cx="409.9" cy="321.94" r="1.7" fill="#111"/>
<polyline points="330.9,320.86 350.65,319.76 370.4,319.22 390.15,302.87 409.9,294.15" fill="none" stroke="#3c4ca4" stroke-width="0.9" stroke-linejoin="round"/>
<rect x="329.5" y="319.46" width="2.8" height="2.8" fill="#3c4ca4"/>
<rect x="349.25" y="318.37" width="2.8" height="2.8" fill="#3c4ca4"/>
<rect x="369" y="317.82" width="2.8" height="2.8" fill="#3c4ca4"/>
<rect x="388.75" y="301.47" width="2.8" height="2.8" fill="#3c4ca4"/>
<rect x="408.5" y="292.75" width="2.8" height="2.8" fill="#3c4ca4"/>
<line x1="47.4" y1="379.7" x2="47.4" y2="448.7" stroke="#333" stroke-width="0.8"/>
<line x1="45.4" y1="448.3" x2="47.4" y2="448.3" stroke="#333" stroke-width="0.8"/>
<text x="44.9" y="450.66" font-size="6.6" text-anchor="end" fill="#231f20">0</text>
<line x1="45.4" y1="434.58" x2="47.4" y2="434.58" stroke="#333" stroke-width="0.8"/>
<text x="44.9" y="436.94" font-size="6.6" text-anchor="end" fill="#231f20">10</text>
<line x1="45.4" y1="420.86" x2="47.4" y2="420.86" stroke="#333" stroke-width="0.8"/>
<text x="44.9" y="423.22" font-size="6.6" text-anchor="end" fill="#231f20">20</text>
<line x1="45.4" y1="407.14" x2="47.4" y2="407.14" stroke="#333" stroke-width="0.8"/>
<text x="44.9" y="409.5" font-size="6.6" text-anchor="end" fill="#231f20">30</text>
<line x1="45.4" y1="393.42" x2="47.4" y2="393.42" stroke="#333" stroke-width="0.8"/>
<text x="44.9" y="395.78" font-size="6.6" text-anchor="end" fill="#231f20">40</text>
<line x1="45.4" y1="379.7" x2="47.4" y2="379.7" stroke="#333" stroke-width="0.8"/>
<text x="44.9" y="382.06" font-size="6.6" text-anchor="end" fill="#231f20">50</text>
<line x1="47" y1="448.3" x2="146.2" y2="448.3" stroke="#333" stroke-width="0.8"/>
<line x1="58.7" y1="448.3" x2="58.7" y2="450.3" stroke="#333" stroke-width="0.8"/>
<text x="58.7" y="457.56" font-size="6.6" text-anchor="middle" fill="#231f20">0.5</text>
<line x1="79.1" y1="448.3" x2="79.1" y2="450.3" stroke="#333" stroke-width="0.8"/>
<text x="79.1" y="457.56" font-size="6.6" text-anchor="middle" fill="#231f20">1</text>
<line x1="99.5" y1="448.3" x2="99.5" y2="450.3" stroke="#333" stroke-width="0.8"/>
<text x="99.5" y="457.56" font-size="6.6" text-anchor="middle" fill="#231f20">2</text>
<line x1="119.9" y1="448.3" x2="119.9" y2="450.3" stroke="#333" stroke-width="0.8"/>
<text x="119.9" y="457.56" font-size="6.6" text-anchor="middle" fill="#231f20">4</text>
<line x1="140.3" y1="448.3" x2="140.3" y2="450.3" stroke="#333" stroke-width="0.8"/>
<text x="140.3" y="457.56" font-size="6.6" text-anchor="middle" fill="#231f20">6</text>
<text x="99.6" y="368.88" font-size="7.2" text-anchor="middle" fill="#231f20">Caspase 3/7</text>
<text transform="translate(33.15,412.9) rotate(-90)" x="0" y="0" font-size="7.4" text-anchor="middle" fill="#231f20">Fold change</text>
<text x="98.9" y="468.63" font-size="7.35" text-anchor="middle" fill="#231f20">Time (h)</text>
<polyline points="58.7,447.61 79.1,447.61 99.5,447.34 119.9,445.56 140.3,438.7" fill="none" stroke="#0f9e66" stroke-width="0.9" stroke-linejoin="round"/>
<polygon points="58.7,446.05 60.26,448.78 57.14,448.78" fill="#0f9e66"/>
<polygon points="79.1,446.05 80.66,448.78 77.54,448.78" fill="#0f9e66"/>
<polygon points="99.5,445.78 101.06,448.51 97.94,448.51" fill="#0f9e66"/>
<polygon points="119.9,444 121.46,446.73 118.34,446.73" fill="#0f9e66"/>
<polygon points="140.3,437.14 141.86,439.87 138.74,439.87" fill="#0f9e66"/>
<polyline points="58.7,447.61 79.1,447.61 99.5,447.61 119.9,447.61 140.3,447.61" fill="none" stroke="#111" stroke-width="1.05" stroke-linejoin="round" stroke-dasharray="2,1.2"/>
<polyline points="58.7,447.61 79.1,447.61 99.5,447.61 119.9,447.61 140.3,447.61" fill="none" stroke="#111" stroke-width="1.05" stroke-linejoin="round"/>
<circle cx="58.7" cy="447.61" r="1.7" fill="#111"/>
<circle cx="79.1" cy="447.61" r="1.7" fill="#111"/>
<circle cx="99.5" cy="447.61" r="1.7" fill="#111"/>
<circle cx="119.9" cy="447.61" r="1.7" fill="#111"/>
<circle cx="140.3" cy="447.61" r="1.7" fill="#111"/>
<polyline points="58.7,447.2 79.1,443.5 99.5,419.49 119.9,389.3 140.3,390.68" fill="none" stroke="#3c4ca4" stroke-width="0.9" stroke-linejoin="round"/>
<line x1="99.5" y1="417.43" x2="99.5" y2="421.55" stroke="#3c4ca4" stroke-width="0.7"/>
<line x1="98.2" y1="417.43" x2="100.8" y2="417.43" stroke="#3c4ca4" stroke-width="0.7"/>
<line x1="98.2" y1="421.55" x2="100.8" y2="421.55" stroke="#3c4ca4" stroke-width="0.7"/>
<line x1="119.9" y1="384.5" x2="119.9" y2="394.11" stroke="#3c4ca4" stroke-width="0.7"/>
<line x1="118.6" y1="384.5" x2="121.2" y2="384.5" stroke="#3c4ca4" stroke-width="0.7"/>
<line x1="118.6" y1="394.11" x2="121.2" y2="394.11" stroke="#3c4ca4" stroke-width="0.7"/>
<rect x="57.3" y="445.8" width="2.8" height="2.8" fill="#3c4ca4"/>
<rect x="77.7" y="442.1" width="2.8" height="2.8" fill="#3c4ca4"/>
<rect x="98.1" y="418.09" width="2.8" height="2.8" fill="#3c4ca4"/>
<rect x="118.5" y="387.9" width="2.8" height="2.8" fill="#3c4ca4"/>
<rect x="138.9" y="389.28" width="2.8" height="2.8" fill="#3c4ca4"/>
<line x1="185.3" y1="379.5" x2="185.3" y2="448.7" stroke="#333" stroke-width="0.8"/>
<line x1="183.3" y1="448.3" x2="185.3" y2="448.3" stroke="#333" stroke-width="0.8"/>
<text x="182.8" y="450.66" font-size="6.6" text-anchor="end" fill="#231f20">0</text>
<line x1="183.3" y1="436.83" x2="185.3" y2="436.83" stroke="#333" stroke-width="0.8"/>
<text x="182.8" y="439.19" font-size="6.6" text-anchor="end" fill="#231f20">1</text>
<line x1="183.3" y1="425.36" x2="185.3" y2="425.36" stroke="#333" stroke-width="0.8"/>
<text x="182.8" y="427.72" font-size="6.6" text-anchor="end" fill="#231f20">2</text>
<line x1="183.3" y1="413.89" x2="185.3" y2="413.89" stroke="#333" stroke-width="0.8"/>
<text x="182.8" y="416.25" font-size="6.6" text-anchor="end" fill="#231f20">3</text>
<line x1="183.3" y1="402.42" x2="185.3" y2="402.42" stroke="#333" stroke-width="0.8"/>
<text x="182.8" y="404.78" font-size="6.6" text-anchor="end" fill="#231f20">4</text>
<line x1="183.3" y1="390.95" x2="185.3" y2="390.95" stroke="#333" stroke-width="0.8"/>
<text x="182.8" y="393.31" font-size="6.6" text-anchor="end" fill="#231f20">5</text>
<line x1="183.3" y1="379.48" x2="185.3" y2="379.48" stroke="#333" stroke-width="0.8"/>
<text x="182.8" y="381.84" font-size="6.6" text-anchor="end" fill="#231f20">6</text>
<line x1="184.9" y1="448.3" x2="284" y2="448.3" stroke="#333" stroke-width="0.8"/>
<line x1="195.7" y1="448.3" x2="195.7" y2="450.3" stroke="#333" stroke-width="0.8"/>
<text x="195.7" y="457.96" font-size="6.6" text-anchor="middle" fill="#231f20">0.5</text>
<line x1="215.5" y1="448.3" x2="215.5" y2="450.3" stroke="#333" stroke-width="0.8"/>
<text x="215.5" y="457.96" font-size="6.6" text-anchor="middle" fill="#231f20">1</text>
<line x1="235.3" y1="448.3" x2="235.3" y2="450.3" stroke="#333" stroke-width="0.8"/>
<text x="235.3" y="457.96" font-size="6.6" text-anchor="middle" fill="#231f20">2</text>
<line x1="255.1" y1="448.3" x2="255.1" y2="450.3" stroke="#333" stroke-width="0.8"/>
<text x="255.1" y="457.96" font-size="6.6" text-anchor="middle" fill="#231f20">4</text>
<line x1="274.9" y1="448.3" x2="274.9" y2="450.3" stroke="#333" stroke-width="0.8"/>
<text x="274.9" y="457.96" font-size="6.6" text-anchor="middle" fill="#231f20">6</text>
<text x="232.5" y="369.78" font-size="7.2" text-anchor="middle" fill="#231f20">Caspase 8</text>
<text transform="translate(176.05,413.2) rotate(-90)" x="0" y="0" font-size="7.4" text-anchor="middle" fill="#231f20">Fold change</text>
<text x="237.3" y="468.63" font-size="7.35" text-anchor="middle" fill="#231f20">Time (h)</text>
<polyline points="195.7,440.27 215.5,439.7 235.3,439.7 255.1,439.12 274.9,433.96" fill="none" stroke="#0f9e66" stroke-width="0.9" stroke-linejoin="round"/>
<polygon points="195.7,438.71 197.26,441.44 194.14,441.44" fill="#0f9e66"/>
<polygon points="215.5,438.14 217.06,440.87 213.94,440.87" fill="#0f9e66"/>
<polygon points="235.3,438.14 236.86,440.87 233.74,440.87" fill="#0f9e66"/>
<polygon points="255.1,437.56 256.66,440.29 253.54,440.29" fill="#0f9e66"/>
<polygon points="274.9,432.4 276.46,435.13 273.34,435.13" fill="#0f9e66"/>
<polyline points="195.7,440.27 215.5,440.27 235.3,440.27 255.1,439.7 274.9,437.4" fill="none" stroke="#111" stroke-width="1.05" stroke-linejoin="round" stroke-dasharray="2,1.2"/>
<polyline points="195.7,441.42 215.5,441.19 235.3,441.65 255.1,441.19 274.9,440.27" fill="none" stroke="#111" stroke-width="1.05" stroke-linejoin="round"/>
<circle cx="195.7" cy="441.42" r="1.7" fill="#111"/>
<circle cx="215.5" cy="441.19" r="1.7" fill="#111"/>
<circle cx="235.3" cy="441.65" r="1.7" fill="#111"/>
<circle cx="255.1" cy="441.19" r="1.7" fill="#111"/>
<circle cx="274.9" cy="440.27" r="1.7" fill="#111"/>
<polyline points="195.7,435.11 215.5,428.23 235.3,406.43 255.1,390.38 274.9,394.39" fill="none" stroke="#3c4ca4" stroke-width="0.9" stroke-linejoin="round"/>
<line x1="215.5" y1="425.36" x2="215.5" y2="431.1" stroke="#3c4ca4" stroke-width="0.7"/>
<line x1="214.2" y1="425.36" x2="216.8" y2="425.36" stroke="#3c4ca4" stroke-width="0.7"/>
<line x1="214.2" y1="431.1" x2="216.8" y2="431.1" stroke="#3c4ca4" stroke-width="0.7"/>
<line x1="235.3" y1="404.71" x2="235.3" y2="408.16" stroke="#3c4ca4" stroke-width="0.7"/>
<line x1="234" y1="404.71" x2="236.6" y2="404.71" stroke="#3c4ca4" stroke-width="0.7"/>
<line x1="234" y1="408.16" x2="236.6" y2="408.16" stroke="#3c4ca4" stroke-width="0.7"/>
<line x1="255.1" y1="389.23" x2="255.1" y2="392.1" stroke="#3c4ca4" stroke-width="0.7"/>
<line x1="253.8" y1="389.23" x2="256.4" y2="389.23" stroke="#3c4ca4" stroke-width="0.7"/>
<line x1="253.8" y1="392.1" x2="256.4" y2="392.1" stroke="#3c4ca4" stroke-width="0.7"/>
<line x1="274.9" y1="390.38" x2="274.9" y2="398.41" stroke="#3c4ca4" stroke-width="0.7"/>
<line x1="273.6" y1="390.38" x2="276.2" y2="390.38" stroke="#3c4ca4" stroke-width="0.7"/>
<line x1="273.6" y1="398.41" x2="276.2" y2="398.41" stroke="#3c4ca4" stroke-width="0.7"/>
<rect x="194.3" y="433.71" width="2.8" height="2.8" fill="#3c4ca4"/>
<rect x="214.1" y="426.83" width="2.8" height="2.8" fill="#3c4ca4"/>
<rect x="233.9" y="405.03" width="2.8" height="2.8" fill="#3c4ca4"/>
<rect x="253.7" y="388.98" width="2.8" height="2.8" fill="#3c4ca4"/>
<rect x="273.5" y="392.99" width="2.8" height="2.8" fill="#3c4ca4"/>
<line x1="321.3" y1="381.1" x2="321.3" y2="448.3" stroke="#333" stroke-width="0.8"/>
<line x1="319.3" y1="447.9" x2="321.3" y2="447.9" stroke="#333" stroke-width="0.8"/>
<text x="318.8" y="450.26" font-size="6.6" text-anchor="end" fill="#231f20">0</text>
<line x1="319.3" y1="434.54" x2="321.3" y2="434.54" stroke="#333" stroke-width="0.8"/>
<text x="318.8" y="436.9" font-size="6.6" text-anchor="end" fill="#231f20">2</text>
<line x1="319.3" y1="421.18" x2="321.3" y2="421.18" stroke="#333" stroke-width="0.8"/>
<text x="318.8" y="423.54" font-size="6.6" text-anchor="end" fill="#231f20">4</text>
<line x1="319.3" y1="407.82" x2="321.3" y2="407.82" stroke="#333" stroke-width="0.8"/>
<text x="318.8" y="410.18" font-size="6.6" text-anchor="end" fill="#231f20">6</text>
<line x1="319.3" y1="394.46" x2="321.3" y2="394.46" stroke="#333" stroke-width="0.8"/>
<text x="318.8" y="396.82" font-size="6.6" text-anchor="end" fill="#231f20">8</text>
<line x1="319.3" y1="381.1" x2="321.3" y2="381.1" stroke="#333" stroke-width="0.8"/>
<text x="318.8" y="383.46" font-size="6.6" text-anchor="end" fill="#231f20">10</text>
<line x1="320.9" y1="447.9" x2="422.6" y2="447.9" stroke="#333" stroke-width="0.8"/>
<line x1="331.6" y1="447.9" x2="331.6" y2="449.9" stroke="#333" stroke-width="0.8"/>
<text x="331.6" y="457.96" font-size="6.6" text-anchor="middle" fill="#231f20">0.5</text>
<line x1="351.7" y1="447.9" x2="351.7" y2="449.9" stroke="#333" stroke-width="0.8"/>
<text x="351.7" y="457.96" font-size="6.6" text-anchor="middle" fill="#231f20">1</text>
<line x1="371.8" y1="447.9" x2="371.8" y2="449.9" stroke="#333" stroke-width="0.8"/>
<text x="371.8" y="457.96" font-size="6.6" text-anchor="middle" fill="#231f20">2</text>
<line x1="391.9" y1="447.9" x2="391.9" y2="449.9" stroke="#333" stroke-width="0.8"/>
<text x="391.9" y="457.96" font-size="6.6" text-anchor="middle" fill="#231f20">4</text>
<line x1="412" y1="447.9" x2="412" y2="449.9" stroke="#333" stroke-width="0.8"/>
<text x="412" y="457.96" font-size="6.6" text-anchor="middle" fill="#231f20">6</text>
<text x="369.7" y="370.08" font-size="7.2" text-anchor="middle" fill="#231f20">Caspase 9</text>
<text transform="translate(308.15,413.2) rotate(-90)" x="0" y="0" font-size="7.4" text-anchor="middle" fill="#231f20">Fold change</text>
<text x="374.2" y="468.63" font-size="7.35" text-anchor="middle" fill="#231f20">Time (h)</text>
<polyline points="331.6,442.22 351.7,441.89 371.8,440.55 391.9,438.55 412,429.2" fill="none" stroke="#0f9e66" stroke-width="0.9" stroke-linejoin="round"/>
<polygon points="331.6,440.66 333.16,443.39 330.04,443.39" fill="#0f9e66"/>
<polygon points="351.7,440.33 353.26,443.06 350.14,443.06" fill="#0f9e66"/>
<polygon points="371.8,438.99 373.36,441.72 370.24,441.72" fill="#0f9e66"/>
<polygon points="391.9,436.99 393.46,439.72 390.34,439.72" fill="#0f9e66"/>
<polygon points="412,427.64 413.56,430.37 410.44,430.37" fill="#0f9e66"/>
<polyline points="331.6,441.89 351.7,441.89 371.8,439.88 391.9,438.88 412,437.88" fill="none" stroke="#111" stroke-width="1.05" stroke-linejoin="round" stroke-dasharray="2,1.2"/>
<polyline points="331.6,442.56 351.7,442.22 371.8,440.89 391.9,439.22 412,438.55" fill="none" stroke="#111" stroke-width="1.05" stroke-linejoin="round"/>
<circle cx="331.6" cy="442.56" r="1.7" fill="#111"/>
<circle cx="351.7" cy="442.22" r="1.7" fill="#111"/>
<circle cx="371.8" cy="440.89" r="1.7" fill="#111"/>
<circle cx="391.9" cy="439.22" r="1.7" fill="#111"/>
<circle cx="412" cy="438.55" r="1.7" fill="#111"/>
<polyline points="331.6,441.89 351.7,436.21 371.8,411.83 391.9,394.13 412,389.45" fill="none" stroke="#3c4ca4" stroke-width="0.9" stroke-linejoin="round"/>
<line x1="351.7" y1="434.54" x2="351.7" y2="437.88" stroke="#3c4ca4" stroke-width="0.7"/>
<line x1="350.4" y1="434.54" x2="353" y2="434.54" stroke="#3c4ca4" stroke-width="0.7"/>
<line x1="350.4" y1="437.88" x2="353" y2="437.88" stroke="#3c4ca4" stroke-width="0.7"/>
<line x1="371.8" y1="406.48" x2="371.8" y2="417.17" stroke="#3c4ca4" stroke-width="0.7"/>
<line x1="370.5" y1="406.48" x2="373.1" y2="406.48" stroke="#3c4ca4" stroke-width="0.7"/>
<line x1="370.5" y1="417.17" x2="373.1" y2="417.17" stroke="#3c4ca4" stroke-width="0.7"/>
<line x1="412" y1="385.11" x2="412" y2="393.79" stroke="#3c4ca4" stroke-width="0.7"/>
<line x1="410.7" y1="385.11" x2="413.3" y2="385.11" stroke="#3c4ca4" stroke-width="0.7"/>
<line x1="410.7" y1="393.79" x2="413.3" y2="393.79" stroke="#3c4ca4" stroke-width="0.7"/>
<rect x="330.2" y="440.49" width="2.8" height="2.8" fill="#3c4ca4"/>
<rect x="350.3" y="434.81" width="2.8" height="2.8" fill="#3c4ca4"/>
<rect x="370.4" y="410.43" width="2.8" height="2.8" fill="#3c4ca4"/>
<rect x="390.5" y="392.73" width="2.8" height="2.8" fill="#3c4ca4"/>
<rect x="410.6" y="388.05" width="2.8" height="2.8" fill="#3c4ca4"/>
<line x1="45.8" y1="506.52" x2="45.8" y2="577.6" stroke="#333" stroke-width="0.8"/>
<line x1="43.8" y1="577.2" x2="45.8" y2="577.2" stroke="#333" stroke-width="0.8"/>
<text x="43.5" y="579.46" font-size="6.3" text-anchor="end" fill="#231f20">0</text>
<line x1="43.8" y1="565.42" x2="45.8" y2="565.42" stroke="#333" stroke-width="0.8"/>
<text x="43.5" y="567.68" font-size="6.3" text-anchor="end" fill="#231f20">20</text>
<line x1="43.8" y1="553.64" x2="45.8" y2="553.64" stroke="#333" stroke-width="0.8"/>
<text x="43.5" y="555.9" font-size="6.3" text-anchor="end" fill="#231f20">40</text>
<line x1="43.8" y1="541.86" x2="45.8" y2="541.86" stroke="#333" stroke-width="0.8"/>
<text x="43.5" y="544.12" font-size="6.3" text-anchor="end" fill="#231f20">60</text>
<line x1="43.8" y1="530.08" x2="45.8" y2="530.08" stroke="#333" stroke-width="0.8"/>
<text x="43.5" y="532.34" font-size="6.3" text-anchor="end" fill="#231f20">80</text>
<line x1="43.8" y1="518.3" x2="45.8" y2="518.3" stroke="#333" stroke-width="0.8"/>
<text x="43.5" y="520.56" font-size="6.3" text-anchor="end" fill="#231f20">100</text>
<line x1="43.8" y1="506.52" x2="45.8" y2="506.52" stroke="#333" stroke-width="0.8"/>
<text x="43.5" y="508.78" font-size="6.3" text-anchor="end" fill="#231f20">120</text>
<line x1="45.4" y1="577.2" x2="188.27" y2="577.2" stroke="#333" stroke-width="0.8"/>
<line x1="45.8" y1="577.2" x2="45.8" y2="579.2" stroke="#333" stroke-width="0.8"/>
<line x1="61.63" y1="577.2" x2="61.63" y2="579.2" stroke="#333" stroke-width="0.8"/>
<line x1="77.46" y1="577.2" x2="77.46" y2="579.2" stroke="#333" stroke-width="0.8"/>
<line x1="93.29" y1="577.2" x2="93.29" y2="579.2" stroke="#333" stroke-width="0.8"/>
<line x1="109.12" y1="577.2" x2="109.12" y2="579.2" stroke="#333" stroke-width="0.8"/>
<line x1="124.95" y1="577.2" x2="124.95" y2="579.2" stroke="#333" stroke-width="0.8"/>
<line x1="140.78" y1="577.2" x2="140.78" y2="579.2" stroke="#333" stroke-width="0.8"/>
<line x1="156.61" y1="577.2" x2="156.61" y2="579.2" stroke="#333" stroke-width="0.8"/>
<line x1="172.44" y1="577.2" x2="172.44" y2="579.2" stroke="#333" stroke-width="0.8"/>
<line x1="188.27" y1="577.2" x2="188.27" y2="579.2" stroke="#333" stroke-width="0.8"/>
<line x1="50.57" y1="577.2" x2="50.57" y2="578.4" stroke="#333" stroke-width="0.6400000000000001"/>
<line x1="53.35" y1="577.2" x2="53.35" y2="578.4" stroke="#333" stroke-width="0.6400000000000001"/>
<line x1="55.33" y1="577.2" x2="55.33" y2="578.4" stroke="#333" stroke-width="0.6400000000000001"/>
<line x1="56.86" y1="577.2" x2="56.86" y2="578.4" stroke="#333" stroke-width="0.6400000000000001"/>
<line x1="58.12" y1="577.2" x2="58.12" y2="578.4" stroke="#333" stroke-width="0.6400000000000001"/>
<line x1="59.18" y1="577.2" x2="59.18" y2="578.4" stroke="#333" stroke-width="0.6400000000000001"/>
<line x1="60.1" y1="577.2" x2="60.1" y2="578.4" stroke="#333" stroke-width="0.6400000000000001"/>
<line x1="60.91" y1="577.2" x2="60.91" y2="578.4" stroke="#333" stroke-width="0.6400000000000001"/>
<line x1="66.4" y1="577.2" x2="66.4" y2="578.4" stroke="#333" stroke-width="0.6400000000000001"/>
<line x1="69.18" y1="577.2" x2="69.18" y2="578.4" stroke="#333" stroke-width="0.6400000000000001"/>
<line x1="71.16" y1="577.2" x2="71.16" y2="578.4" stroke="#333" stroke-width="0.6400000000000001"/>
<line x1="72.69" y1="577.2" x2="72.69" y2="578.4" stroke="#333" stroke-width="0.6400000000000001"/>
<line x1="73.95" y1="577.2" x2="73.95" y2="578.4" stroke="#333" stroke-width="0.6400000000000001"/>
<line x1="75.01" y1="577.2" x2="75.01" y2="578.4" stroke="#333" stroke-width="0.6400000000000001"/>
<line x1="75.93" y1="577.2" x2="75.93" y2="578.4" stroke="#333" stroke-width="0.6400000000000001"/>
<line x1="76.74" y1="577.2" x2="76.74" y2="578.4" stroke="#333" stroke-width="0.6400000000000001"/>
<line x1="82.23" y1="577.2" x2="82.23" y2="578.4" stroke="#333" stroke-width="0.6400000000000001"/>
<line x1="85.01" y1="577.2" x2="85.01" y2="578.4" stroke="#333" stroke-width="0.6400000000000001"/>
<line x1="86.99" y1="577.2" x2="86.99" y2="578.4" stroke="#333" stroke-width="0.6400000000000001"/>
<line x1="88.52" y1="577.2" x2="88.52" y2="578.4" stroke="#333" stroke-width="0.6400000000000001"/>
<line x1="89.78" y1="577.2" x2="89.78" y2="578.4" stroke="#333" stroke-width="0.6400000000000001"/>
<line x1="90.84" y1="577.2" x2="90.84" y2="578.4" stroke="#333" stroke-width="0.6400000000000001"/>
<line x1="91.76" y1="577.2" x2="91.76" y2="578.4" stroke="#333" stroke-width="0.6400000000000001"/>
<line x1="92.57" y1="577.2" x2="92.57" y2="578.4" stroke="#333" stroke-width="0.6400000000000001"/>
<line x1="98.06" y1="577.2" x2="98.06" y2="578.4" stroke="#333" stroke-width="0.6400000000000001"/>
<line x1="100.84" y1="577.2" x2="100.84" y2="578.4" stroke="#333" stroke-width="0.6400000000000001"/>
<line x1="102.82" y1="577.2" x2="102.82" y2="578.4" stroke="#333" stroke-width="0.6400000000000001"/>
<line x1="104.35" y1="577.2" x2="104.35" y2="578.4" stroke="#333" stroke-width="0.6400000000000001"/>
<line x1="105.61" y1="577.2" x2="105.61" y2="578.4" stroke="#333" stroke-width="0.6400000000000001"/>
<line x1="106.67" y1="577.2" x2="106.67" y2="578.4" stroke="#333" stroke-width="0.6400000000000001"/>
<line x1="107.59" y1="577.2" x2="107.59" y2="578.4" stroke="#333" stroke-width="0.6400000000000001"/>
<line x1="108.4" y1="577.2" x2="108.4" y2="578.4" stroke="#333" stroke-width="0.6400000000000001"/>
<line x1="113.89" y1="577.2" x2="113.89" y2="578.4" stroke="#333" stroke-width="0.6400000000000001"/>
<line x1="116.67" y1="577.2" x2="116.67" y2="578.4" stroke="#333" stroke-width="0.6400000000000001"/>
<line x1="118.65" y1="577.2" x2="118.65" y2="578.4" stroke="#333" stroke-width="0.6400000000000001"/>
<line x1="120.18" y1="577.2" x2="120.18" y2="578.4" stroke="#333" stroke-width="0.6400000000000001"/>
<line x1="121.44" y1="577.2" x2="121.44" y2="578.4" stroke="#333" stroke-width="0.6400000000000001"/>
<line x1="122.5" y1="577.2" x2="122.5" y2="578.4" stroke="#333" stroke-width="0.6400000000000001"/>
<line x1="123.42" y1="577.2" x2="123.42" y2="578.4" stroke="#333" stroke-width="0.6400000000000001"/>
<line x1="124.23" y1="577.2" x2="124.23" y2="578.4" stroke="#333" stroke-width="0.6400000000000001"/>
<line x1="129.72" y1="577.2" x2="129.72" y2="578.4" stroke="#333" stroke-width="0.6400000000000001"/>
<line x1="132.5" y1="577.2" x2="132.5" y2="578.4" stroke="#333" stroke-width="0.6400000000000001"/>
<line x1="134.48" y1="577.2" x2="134.48" y2="578.4" stroke="#333" stroke-width="0.6400000000000001"/>
<line x1="136.01" y1="577.2" x2="136.01" y2="578.4" stroke="#333" stroke-width="0.6400000000000001"/>
<line x1="137.27" y1="577.2" x2="137.27" y2="578.4" stroke="#333" stroke-width="0.6400000000000001"/>
<line x1="138.33" y1="577.2" x2="138.33" y2="578.4" stroke="#333" stroke-width="0.6400000000000001"/>
<line x1="139.25" y1="577.2" x2="139.25" y2="578.4" stroke="#333" stroke-width="0.6400000000000001"/>
<line x1="140.06" y1="577.2" x2="140.06" y2="578.4" stroke="#333" stroke-width="0.6400000000000001"/>
<line x1="145.55" y1="577.2" x2="145.55" y2="578.4" stroke="#333" stroke-width="0.6400000000000001"/>
<line x1="148.33" y1="577.2" x2="148.33" y2="578.4" stroke="#333" stroke-width="0.6400000000000001"/>
<line x1="150.31" y1="577.2" x2="150.31" y2="578.4" stroke="#333" stroke-width="0.6400000000000001"/>
<line x1="151.84" y1="577.2" x2="151.84" y2="578.4" stroke="#333" stroke-width="0.6400000000000001"/>
<line x1="153.1" y1="577.2" x2="153.1" y2="578.4" stroke="#333" stroke-width="0.6400000000000001"/>
<line x1="154.16" y1="577.2" x2="154.16" y2="578.4" stroke="#333" stroke-width="0.6400000000000001"/>
<line x1="155.08" y1="577.2" x2="155.08" y2="578.4" stroke="#333" stroke-width="0.6400000000000001"/>
<line x1="155.89" y1="577.2" x2="155.89" y2="578.4" stroke="#333" stroke-width="0.6400000000000001"/>
<line x1="161.38" y1="577.2" x2="161.38" y2="578.4" stroke="#333" stroke-width="0.6400000000000001"/>
<line x1="164.16" y1="577.2" x2="164.16" y2="578.4" stroke="#333" stroke-width="0.6400000000000001"/>
<line x1="166.14" y1="577.2" x2="166.14" y2="578.4" stroke="#333" stroke-width="0.6400000000000001"/>
<line x1="167.67" y1="577.2" x2="167.67" y2="578.4" stroke="#333" stroke-width="0.6400000000000001"/>
<line x1="168.93" y1="577.2" x2="168.93" y2="578.4" stroke="#333" stroke-width="0.6400000000000001"/>
<line x1="169.99" y1="577.2" x2="169.99" y2="578.4" stroke="#333" stroke-width="0.6400000000000001"/>
<line x1="170.91" y1="577.2" x2="170.91" y2="578.4" stroke="#333" stroke-width="0.6400000000000001"/>
<line x1="171.72" y1="577.2" x2="171.72" y2="578.4" stroke="#333" stroke-width="0.6400000000000001"/>
<line x1="177.21" y1="577.2" x2="177.21" y2="578.4" stroke="#333" stroke-width="0.6400000000000001"/>
<line x1="179.99" y1="577.2" x2="179.99" y2="578.4" stroke="#333" stroke-width="0.6400000000000001"/>
<line x1="181.97" y1="577.2" x2="181.97" y2="578.4" stroke="#333" stroke-width="0.6400000000000001"/>
<line x1="183.5" y1="577.2" x2="183.5" y2="578.4" stroke="#333" stroke-width="0.6400000000000001"/>
<line x1="184.76" y1="577.2" x2="184.76" y2="578.4" stroke="#333" stroke-width="0.6400000000000001"/>
<line x1="185.82" y1="577.2" x2="185.82" y2="578.4" stroke="#333" stroke-width="0.6400000000000001"/>
<line x1="186.74" y1="577.2" x2="186.74" y2="578.4" stroke="#333" stroke-width="0.6400000000000001"/>
<line x1="187.55" y1="577.2" x2="187.55" y2="578.4" stroke="#333" stroke-width="0.6400000000000001"/>
<text x="46.3" y="586.42" font-size="6.2" text-anchor="middle" fill="#231f20">10<tspan font-size="4.22" dy="-2.6">&#8722;6</tspan></text>
<text x="62.13" y="586.42" font-size="6.2" text-anchor="middle" fill="#231f20">10<tspan font-size="4.22" dy="-2.6">&#8722;5</tspan></text>
<text x="77.96" y="586.42" font-size="6.2" text-anchor="middle" fill="#231f20">10<tspan font-size="4.22" dy="-2.6">&#8722;4</tspan></text>
<text x="93.79" y="586.42" font-size="6.2" text-anchor="middle" fill="#231f20">10<tspan font-size="4.22" dy="-2.6">&#8722;3</tspan></text>
<text x="109.62" y="586.42" font-size="6.2" text-anchor="middle" fill="#231f20">10<tspan font-size="4.22" dy="-2.6">&#8722;2</tspan></text>
<text x="125.45" y="586.42" font-size="6.2" text-anchor="middle" fill="#231f20">10<tspan font-size="4.22" dy="-2.6">&#8722;1</tspan></text>
<text x="141.28" y="586.42" font-size="6.2" text-anchor="middle" fill="#231f20">10<tspan font-size="4.22" dy="-2.6">0</tspan></text>
<text x="157.11" y="586.42" font-size="6.2" text-anchor="middle" fill="#231f20">10<tspan font-size="4.22" dy="-2.6">1</tspan></text>
<text x="172.94" y="586.42" font-size="6.2" text-anchor="middle" fill="#231f20">10<tspan font-size="4.22" dy="-2.6">2</tspan></text>
<text x="188.77" y="586.42" font-size="6.2" text-anchor="middle" fill="#231f20">10<tspan font-size="4.22" dy="-2.6">3</tspan></text>
<text transform="translate(26.85,541.4) rotate(-90)" x="0" y="0" font-size="7.4" text-anchor="middle" fill="#231f20">Viable (%)</text>
<text x="117.3" y="598.15" font-size="7.4" text-anchor="middle" fill="#231f20">IGM-8444 (&#956;g/mL)</text>
<polyline points="53,518.6 53.9,518.6 54.8,518.61 55.7,518.61 56.6,518.61 57.49,518.61 58.39,518.61 59.29,518.62 60.19,518.62 61.09,518.63 61.99,518.63 62.89,518.64 63.79,518.65 64.69,518.66 65.59,518.67 66.48,518.69 67.38,518.71 68.28,518.74 69.18,518.77 70.08,518.8 70.98,518.85 71.88,518.91 72.78,518.98 73.68,519.06 74.58,519.17 75.47,519.3 76.37,519.46 77.27,519.65 78.17,519.89 79.07,520.17 79.97,520.52 80.87,520.94 81.77,521.45 82.67,522.07 83.57,522.8 84.46,523.68 85.36,524.72 86.26,525.93 87.16,527.35 88.06,528.98 88.96,530.84 89.86,532.92 90.76,535.21 91.66,537.7 92.56,540.35 93.45,543.12 94.35,545.95 95.25,548.79 96.15,551.57 97.05,554.23 97.95,556.74 98.85,559.06 99.75,561.16 100.65,563.04 101.55,564.69 102.44,566.13 103.34,567.37 104.24,568.42 105.14,569.31 106.04,570.06 106.94,570.69 107.84,571.21 108.74,571.64 109.64,571.99 110.54,572.29 111.43,572.53 112.33,572.72 113.23,572.89 114.13,573.02 115.03,573.13 115.93,573.21 116.83,573.29 117.73,573.34 118.63,573.39 119.53,573.43 120.42,573.46 121.32,573.49 122.22,573.51 123.12,573.53 124.02,573.54 124.92,573.55 125.82,573.56 126.72,573.57 127.62,573.57 128.52,573.58 129.41,573.58 130.31,573.59 131.21,573.59 132.11,573.59 133.01,573.59 133.91,573.59 134.81,573.59 135.71,573.6 136.61,573.6 137.51,573.6 138.4,573.6 139.3,573.6 140.2,573.6 141.1,573.6 142,573.6" fill="none" stroke="#111" stroke-width="1.0" stroke-linejoin="round"/>
<rect x="51.8" y="517.8" width="2.6" height="2.6" fill="#111"/>
<rect x="62.9" y="516.8" width="2.6" height="2.6" fill="#111"/>
<rect x="74" y="516.6" width="2.6" height="2.6" fill="#111"/>
<rect x="85.1" y="524.3" width="2.6" height="2.6" fill="#111"/>
<rect x="95.8" y="550.6" width="2.6" height="2.6" fill="#111"/>
<rect x="107.3" y="572" width="2.6" height="2.6" fill="#111"/>
<rect x="118.4" y="572.8" width="2.6" height="2.6" fill="#111"/>
<rect x="129.6" y="571.4" width="2.6" height="2.6" fill="#111"/>
<rect x="140.7" y="569.4" width="2.6" height="2.6" fill="#111"/>
<line x1="64.2" y1="515.8" x2="64.2" y2="520.6" stroke="#111" stroke-width="0.7"/>
<line x1="62.6" y1="515.8" x2="65.8" y2="515.8" stroke="#111" stroke-width="0.7"/>
<line x1="62.6" y1="520.6" x2="65.8" y2="520.6" stroke="#111" stroke-width="0.7"/>
<line x1="97.1" y1="549" x2="97.1" y2="555" stroke="#111" stroke-width="0.7"/>
<line x1="95.5" y1="549" x2="98.7" y2="549" stroke="#111" stroke-width="0.7"/>
<line x1="95.5" y1="555" x2="98.7" y2="555" stroke="#111" stroke-width="0.7"/>
<line x1="53.1" y1="517.3" x2="53.1" y2="521" stroke="#111" stroke-width="0.7"/>
<line x1="51.5" y1="517.3" x2="54.7" y2="517.3" stroke="#111" stroke-width="0.7"/>
<line x1="51.5" y1="521" x2="54.7" y2="521" stroke="#111" stroke-width="0.7"/>
<line x1="75.3" y1="516.5" x2="75.3" y2="519.5" stroke="#111" stroke-width="0.7"/>
<line x1="73.7" y1="516.5" x2="76.9" y2="516.5" stroke="#111" stroke-width="0.7"/>
<line x1="73.7" y1="519.5" x2="76.9" y2="519.5" stroke="#111" stroke-width="0.7"/>
<polyline points="95.5,519.4 97.02,519.4 98.53,519.4 100.05,519.4 101.57,519.4 103.08,519.4 104.6,519.4 106.12,519.4 107.64,519.4 109.15,519.4 110.67,519.4 112.19,519.4 113.7,519.4 115.22,519.4 116.74,519.4 118.25,519.4 119.77,519.4 121.29,519.4 122.81,519.4 124.32,519.4 125.84,519.4 127.36,519.4 128.87,519.4 130.39,519.4 131.91,519.4 133.42,519.4 134.94,519.4 136.46,519.4 137.97,519.4 139.49,519.4 141.01,519.4 142.53,519.4 144.04,519.4 145.56,519.4 147.08,519.4 148.59,519.4 150.11,519.4 151.63,519.4 153.14,519.4 154.66,519.4 156.18,519.4 157.69,519.4 159.21,519.4 160.73,519.4 162.25,519.4 163.76,519.4 165.28,519.4 166.8,519.4 168.31,519.4 169.83,519.4 171.35,519.4 172.86,519.4 174.38,519.4 175.9,519.4 177.42,519.41 178.93,519.45 180.45,519.72 181.97,520.84 183.48,522.26 185,522.71" fill="none" stroke="#e0202f" stroke-width="1.0" stroke-linejoin="round"/>
<rect x="94.2" y="517.4" width="2.6" height="2.6" fill="#e0202f"/>
<rect x="105.3" y="518.2" width="2.6" height="2.6" fill="#e0202f"/>
<rect x="116.4" y="520.3" width="2.6" height="2.6" fill="#e0202f"/>
<rect x="127.5" y="517.8" width="2.6" height="2.6" fill="#e0202f"/>
<rect x="138.6" y="518.2" width="2.6" height="2.6" fill="#e0202f"/>
<rect x="149.7" y="517" width="2.6" height="2.6" fill="#e0202f"/>
<rect x="160.8" y="519.9" width="2.6" height="2.6" fill="#e0202f"/>
<rect x="171.9" y="517.5" width="2.6" height="2.6" fill="#e0202f"/>
<rect x="183" y="521.7" width="2.6" height="2.6" fill="#e0202f"/>
<line x1="95.5" y1="516.5" x2="95.5" y2="521.5" stroke="#e0202f" stroke-width="0.7"/>
<line x1="93.9" y1="516.5" x2="97.1" y2="516.5" stroke="#e0202f" stroke-width="0.7"/>
<line x1="93.9" y1="521.5" x2="97.1" y2="521.5" stroke="#e0202f" stroke-width="0.7"/>
<line x1="106.6" y1="515.5" x2="106.6" y2="524" stroke="#e0202f" stroke-width="0.7"/>
<line x1="105" y1="515.5" x2="108.2" y2="515.5" stroke="#e0202f" stroke-width="0.7"/>
<line x1="105" y1="524" x2="108.2" y2="524" stroke="#e0202f" stroke-width="0.7"/>
<line x1="128.8" y1="516" x2="128.8" y2="523.5" stroke="#e0202f" stroke-width="0.7"/>
<line x1="127.2" y1="516" x2="130.4" y2="516" stroke="#e0202f" stroke-width="0.7"/>
<line x1="127.2" y1="523.5" x2="130.4" y2="523.5" stroke="#e0202f" stroke-width="0.7"/>
<line x1="139.9" y1="515.5" x2="139.9" y2="523.5" stroke="#e0202f" stroke-width="0.7"/>
<line x1="138.3" y1="515.5" x2="141.5" y2="515.5" stroke="#e0202f" stroke-width="0.7"/>
<line x1="138.3" y1="523.5" x2="141.5" y2="523.5" stroke="#e0202f" stroke-width="0.7"/>
<line x1="151" y1="513.5" x2="151" y2="522.5" stroke="#e0202f" stroke-width="0.7"/>
<line x1="149.4" y1="513.5" x2="152.6" y2="513.5" stroke="#e0202f" stroke-width="0.7"/>
<line x1="149.4" y1="522.5" x2="152.6" y2="522.5" stroke="#e0202f" stroke-width="0.7"/>
<line x1="173.2" y1="515.5" x2="173.2" y2="521.5" stroke="#e0202f" stroke-width="0.7"/>
<line x1="171.6" y1="515.5" x2="174.8" y2="515.5" stroke="#e0202f" stroke-width="0.7"/>
<line x1="171.6" y1="521.5" x2="174.8" y2="521.5" stroke="#e0202f" stroke-width="0.7"/>
<line x1="244.4" y1="506.02" x2="244.4" y2="576.8" stroke="#333" stroke-width="0.8"/>
<line x1="242.4" y1="576.4" x2="244.4" y2="576.4" stroke="#333" stroke-width="0.8"/>
<text x="242" y="578.66" font-size="6.3" text-anchor="end" fill="#231f20">0</text>
<line x1="242.4" y1="564.67" x2="244.4" y2="564.67" stroke="#333" stroke-width="0.8"/>
<text x="242" y="566.93" font-size="6.3" text-anchor="end" fill="#231f20">20</text>
<line x1="242.4" y1="552.94" x2="244.4" y2="552.94" stroke="#333" stroke-width="0.8"/>
<text x="242" y="555.2" font-size="6.3" text-anchor="end" fill="#231f20">40</text>
<line x1="242.4" y1="541.21" x2="244.4" y2="541.21" stroke="#333" stroke-width="0.8"/>
<text x="242" y="543.47" font-size="6.3" text-anchor="end" fill="#231f20">60</text>
<line x1="242.4" y1="529.48" x2="244.4" y2="529.48" stroke="#333" stroke-width="0.8"/>
<text x="242" y="531.74" font-size="6.3" text-anchor="end" fill="#231f20">80</text>
<line x1="242.4" y1="517.75" x2="244.4" y2="517.75" stroke="#333" stroke-width="0.8"/>
<text x="242" y="520.01" font-size="6.3" text-anchor="end" fill="#231f20">100</text>
<line x1="242.4" y1="506.02" x2="244.4" y2="506.02" stroke="#333" stroke-width="0.8"/>
<text x="242" y="508.28" font-size="6.3" text-anchor="end" fill="#231f20">120</text>
<line x1="244" y1="576.4" x2="388.2" y2="576.4" stroke="#333" stroke-width="0.8"/>
<line x1="244.4" y1="576.4" x2="244.4" y2="578.4" stroke="#333" stroke-width="0.8"/>
<line x1="264.8" y1="576.4" x2="264.8" y2="578.4" stroke="#333" stroke-width="0.8"/>
<line x1="285.2" y1="576.4" x2="285.2" y2="578.4" stroke="#333" stroke-width="0.8"/>
<line x1="305.6" y1="576.4" x2="305.6" y2="578.4" stroke="#333" stroke-width="0.8"/>
<line x1="326" y1="576.4" x2="326" y2="578.4" stroke="#333" stroke-width="0.8"/>
<line x1="346.4" y1="576.4" x2="346.4" y2="578.4" stroke="#333" stroke-width="0.8"/>
<line x1="366.8" y1="576.4" x2="366.8" y2="578.4" stroke="#333" stroke-width="0.8"/>
<line x1="387.2" y1="576.4" x2="387.2" y2="578.4" stroke="#333" stroke-width="0.8"/>
<line x1="250.54" y1="576.4" x2="250.54" y2="577.6" stroke="#333" stroke-width="0.6400000000000001"/>
<line x1="254.13" y1="576.4" x2="254.13" y2="577.6" stroke="#333" stroke-width="0.6400000000000001"/>
<line x1="256.68" y1="576.4" x2="256.68" y2="577.6" stroke="#333" stroke-width="0.6400000000000001"/>
<line x1="258.66" y1="576.4" x2="258.66" y2="577.6" stroke="#333" stroke-width="0.6400000000000001"/>
<line x1="260.27" y1="576.4" x2="260.27" y2="577.6" stroke="#333" stroke-width="0.6400000000000001"/>
<line x1="261.64" y1="576.4" x2="261.64" y2="577.6" stroke="#333" stroke-width="0.6400000000000001"/>
<line x1="262.82" y1="576.4" x2="262.82" y2="577.6" stroke="#333" stroke-width="0.6400000000000001"/>
<line x1="263.87" y1="576.4" x2="263.87" y2="577.6" stroke="#333" stroke-width="0.6400000000000001"/>
<line x1="270.94" y1="576.4" x2="270.94" y2="577.6" stroke="#333" stroke-width="0.6400000000000001"/>
<line x1="274.53" y1="576.4" x2="274.53" y2="577.6" stroke="#333" stroke-width="0.6400000000000001"/>
<line x1="277.08" y1="576.4" x2="277.08" y2="577.6" stroke="#333" stroke-width="0.6400000000000001"/>
<line x1="279.06" y1="576.4" x2="279.06" y2="577.6" stroke="#333" stroke-width="0.6400000000000001"/>
<line x1="280.67" y1="576.4" x2="280.67" y2="577.6" stroke="#333" stroke-width="0.6400000000000001"/>
<line x1="282.04" y1="576.4" x2="282.04" y2="577.6" stroke="#333" stroke-width="0.6400000000000001"/>
<line x1="283.22" y1="576.4" x2="283.22" y2="577.6" stroke="#333" stroke-width="0.6400000000000001"/>
<line x1="284.27" y1="576.4" x2="284.27" y2="577.6" stroke="#333" stroke-width="0.6400000000000001"/>
<line x1="291.34" y1="576.4" x2="291.34" y2="577.6" stroke="#333" stroke-width="0.6400000000000001"/>
<line x1="294.93" y1="576.4" x2="294.93" y2="577.6" stroke="#333" stroke-width="0.6400000000000001"/>
<line x1="297.48" y1="576.4" x2="297.48" y2="577.6" stroke="#333" stroke-width="0.6400000000000001"/>
<line x1="299.46" y1="576.4" x2="299.46" y2="577.6" stroke="#333" stroke-width="0.6400000000000001"/>
<line x1="301.07" y1="576.4" x2="301.07" y2="577.6" stroke="#333" stroke-width="0.6400000000000001"/>
<line x1="302.44" y1="576.4" x2="302.44" y2="577.6" stroke="#333" stroke-width="0.6400000000000001"/>
<line x1="303.62" y1="576.4" x2="303.62" y2="577.6" stroke="#333" stroke-width="0.6400000000000001"/>
<line x1="304.67" y1="576.4" x2="304.67" y2="577.6" stroke="#333" stroke-width="0.6400000000000001"/>
<line x1="311.74" y1="576.4" x2="311.74" y2="577.6" stroke="#333" stroke-width="0.6400000000000001"/>
<line x1="315.33" y1="576.4" x2="315.33" y2="577.6" stroke="#333" stroke-width="0.6400000000000001"/>
<line x1="317.88" y1="576.4" x2="317.88" y2="577.6" stroke="#333" stroke-width="0.6400000000000001"/>
<line x1="319.86" y1="576.4" x2="319.86" y2="577.6" stroke="#333" stroke-width="0.6400000000000001"/>
<line x1="321.47" y1="576.4" x2="321.47" y2="577.6" stroke="#333" stroke-width="0.6400000000000001"/>
<line x1="322.84" y1="576.4" x2="322.84" y2="577.6" stroke="#333" stroke-width="0.6400000000000001"/>
<line x1="324.02" y1="576.4" x2="324.02" y2="577.6" stroke="#333" stroke-width="0.6400000000000001"/>
<line x1="325.07" y1="576.4" x2="325.07" y2="577.6" stroke="#333" stroke-width="0.6400000000000001"/>
<line x1="332.14" y1="576.4" x2="332.14" y2="577.6" stroke="#333" stroke-width="0.6400000000000001"/>
<line x1="335.73" y1="576.4" x2="335.73" y2="577.6" stroke="#333" stroke-width="0.6400000000000001"/>
<line x1="338.28" y1="576.4" x2="338.28" y2="577.6" stroke="#333" stroke-width="0.6400000000000001"/>
<line x1="340.26" y1="576.4" x2="340.26" y2="577.6" stroke="#333" stroke-width="0.6400000000000001"/>
<line x1="341.87" y1="576.4" x2="341.87" y2="577.6" stroke="#333" stroke-width="0.6400000000000001"/>
<line x1="343.24" y1="576.4" x2="343.24" y2="577.6" stroke="#333" stroke-width="0.6400000000000001"/>
<line x1="344.42" y1="576.4" x2="344.42" y2="577.6" stroke="#333" stroke-width="0.6400000000000001"/>
<line x1="345.47" y1="576.4" x2="345.47" y2="577.6" stroke="#333" stroke-width="0.6400000000000001"/>
<line x1="352.54" y1="576.4" x2="352.54" y2="577.6" stroke="#333" stroke-width="0.6400000000000001"/>
<line x1="356.13" y1="576.4" x2="356.13" y2="577.6" stroke="#333" stroke-width="0.6400000000000001"/>
<line x1="358.68" y1="576.4" x2="358.68" y2="577.6" stroke="#333" stroke-width="0.6400000000000001"/>
<line x1="360.66" y1="576.4" x2="360.66" y2="577.6" stroke="#333" stroke-width="0.6400000000000001"/>
<line x1="362.27" y1="576.4" x2="362.27" y2="577.6" stroke="#333" stroke-width="0.6400000000000001"/>
<line x1="363.64" y1="576.4" x2="363.64" y2="577.6" stroke="#333" stroke-width="0.6400000000000001"/>
<line x1="364.82" y1="576.4" x2="364.82" y2="577.6" stroke="#333" stroke-width="0.6400000000000001"/>
<line x1="365.87" y1="576.4" x2="365.87" y2="577.6" stroke="#333" stroke-width="0.6400000000000001"/>
<line x1="372.94" y1="576.4" x2="372.94" y2="577.6" stroke="#333" stroke-width="0.6400000000000001"/>
<line x1="376.53" y1="576.4" x2="376.53" y2="577.6" stroke="#333" stroke-width="0.6400000000000001"/>
<line x1="379.08" y1="576.4" x2="379.08" y2="577.6" stroke="#333" stroke-width="0.6400000000000001"/>
<line x1="381.06" y1="576.4" x2="381.06" y2="577.6" stroke="#333" stroke-width="0.6400000000000001"/>
<line x1="382.67" y1="576.4" x2="382.67" y2="577.6" stroke="#333" stroke-width="0.6400000000000001"/>
<line x1="384.04" y1="576.4" x2="384.04" y2="577.6" stroke="#333" stroke-width="0.6400000000000001"/>
<line x1="385.22" y1="576.4" x2="385.22" y2="577.6" stroke="#333" stroke-width="0.6400000000000001"/>
<line x1="386.27" y1="576.4" x2="386.27" y2="577.6" stroke="#333" stroke-width="0.6400000000000001"/>
<text x="244.9" y="585.62" font-size="6.2" text-anchor="middle" fill="#231f20">10<tspan font-size="4.22" dy="-2.6">&#8722;6</tspan></text>
<text x="265.3" y="585.62" font-size="6.2" text-anchor="middle" fill="#231f20">10<tspan font-size="4.22" dy="-2.6">&#8722;5</tspan></text>
<text x="285.7" y="585.62" font-size="6.2" text-anchor="middle" fill="#231f20">10<tspan font-size="4.22" dy="-2.6">&#8722;4</tspan></text>
<text x="306.1" y="585.62" font-size="6.2" text-anchor="middle" fill="#231f20">10<tspan font-size="4.22" dy="-2.6">&#8722;3</tspan></text>
<text x="326.5" y="585.62" font-size="6.2" text-anchor="middle" fill="#231f20">10<tspan font-size="4.22" dy="-2.6">&#8722;2</tspan></text>
<text x="346.9" y="585.62" font-size="6.2" text-anchor="middle" fill="#231f20">10<tspan font-size="4.22" dy="-2.6">&#8722;1</tspan></text>
<text x="367.3" y="585.62" font-size="6.2" text-anchor="middle" fill="#231f20">10<tspan font-size="4.22" dy="-2.6">0</tspan></text>
<text x="387.7" y="585.62" font-size="6.2" text-anchor="middle" fill="#231f20">10<tspan font-size="4.22" dy="-2.6">1</tspan></text>
<text transform="translate(225.85,540.7) rotate(-90)" x="0" y="0" font-size="7.4" text-anchor="middle" fill="#231f20">Viable (%)</text>
<text x="316.1" y="597.28" font-size="7.5" text-anchor="middle" fill="#231f20">TRAIL (&#956;g/mL)</text>
<polyline points="266.6,516.02 267.75,516.03 268.91,516.03 270.06,516.03 271.21,516.04 272.37,516.04 273.52,516.04 274.67,516.05 275.83,516.06 276.98,516.06 278.14,516.07 279.29,516.08 280.44,516.09 281.6,516.1 282.75,516.11 283.9,516.13 285.06,516.14 286.21,516.16 287.36,516.18 288.52,516.2 289.67,516.22 290.82,516.25 291.98,516.28 293.13,516.32 294.28,516.36 295.44,516.4 296.59,516.45 297.75,516.5 298.9,516.56 300.05,516.63 301.21,516.7 302.36,516.79 303.51,516.88 304.67,516.99 305.82,517.1 306.97,517.23 308.13,517.38 309.28,517.54 310.43,517.72 311.59,517.92 312.74,518.14 313.89,518.39 315.05,518.66 316.2,518.95 317.36,519.28 318.51,519.64 319.66,520.04 320.82,520.47 321.97,520.95 323.12,521.46 324.28,522.02 325.43,522.62 326.58,523.27 327.74,523.96 328.89,524.71 330.04,525.49 331.2,526.33 332.35,527.2 333.51,528.12 334.66,529.07 335.81,530.05 336.97,531.06 338.12,532.09 339.27,533.13 340.43,534.18 341.58,535.23 342.73,536.28 343.89,537.31 345.04,538.32 346.19,539.31 347.35,540.27 348.5,541.18 349.65,542.07 350.81,542.9 351.96,543.7 353.12,544.44 354.27,545.14 355.42,545.8 356.58,546.41 357.73,546.97 358.88,547.49 360.04,547.97 361.19,548.41 362.34,548.81 363.5,549.17 364.65,549.51 365.8,549.81 366.96,550.08 368.11,550.33 369.26,550.55 370.42,550.76 371.57,550.94 372.73,551.1 373.88,551.25 375.03,551.38 376.19,551.5 377.34,551.61 378.49,551.7 379.65,551.79 380.8,551.86" fill="none" stroke="#e0202f" stroke-width="1.0" stroke-linejoin="round"/>
<rect x="265.3" y="513.7" width="2.6" height="2.6" fill="#e0202f"/>
<rect x="280" y="514.6" width="2.6" height="2.6" fill="#e0202f"/>
<rect x="294.4" y="515.1" width="2.6" height="2.6" fill="#e0202f"/>
<rect x="308.6" y="517.4" width="2.6" height="2.6" fill="#e0202f"/>
<rect x="323" y="520.9" width="2.6" height="2.6" fill="#e0202f"/>
<rect x="336.8" y="531.8" width="2.6" height="2.6" fill="#e0202f"/>
<rect x="351.2" y="543.4" width="2.6" height="2.6" fill="#e0202f"/>
<rect x="365" y="544.8" width="2.6" height="2.6" fill="#e0202f"/>
<rect x="379.5" y="550" width="2.6" height="2.6" fill="#e0202f"/>
<line x1="266.6" y1="512.5" x2="266.6" y2="517.5" stroke="#e0202f" stroke-width="0.7"/>
<line x1="265" y1="512.5" x2="268.2" y2="512.5" stroke="#e0202f" stroke-width="0.7"/>
<line x1="265" y1="517.5" x2="268.2" y2="517.5" stroke="#e0202f" stroke-width="0.7"/>
<line x1="281.3" y1="512.5" x2="281.3" y2="519.5" stroke="#e0202f" stroke-width="0.7"/>
<line x1="279.7" y1="512.5" x2="282.9" y2="512.5" stroke="#e0202f" stroke-width="0.7"/>
<line x1="279.7" y1="519.5" x2="282.9" y2="519.5" stroke="#e0202f" stroke-width="0.7"/>
<line x1="295.7" y1="512" x2="295.7" y2="521" stroke="#e0202f" stroke-width="0.7"/>
<line x1="294.1" y1="512" x2="297.3" y2="512" stroke="#e0202f" stroke-width="0.7"/>
<line x1="294.1" y1="521" x2="297.3" y2="521" stroke="#e0202f" stroke-width="0.7"/>
<line x1="309.9" y1="514" x2="309.9" y2="522" stroke="#e0202f" stroke-width="0.7"/>
<line x1="308.3" y1="514" x2="311.5" y2="514" stroke="#e0202f" stroke-width="0.7"/>
<line x1="308.3" y1="522" x2="311.5" y2="522" stroke="#e0202f" stroke-width="0.7"/>
<line x1="324.3" y1="518.5" x2="324.3" y2="525.5" stroke="#e0202f" stroke-width="0.7"/>
<line x1="322.7" y1="518.5" x2="325.9" y2="518.5" stroke="#e0202f" stroke-width="0.7"/>
<line x1="322.7" y1="525.5" x2="325.9" y2="525.5" stroke="#e0202f" stroke-width="0.7"/>
<line x1="338.1" y1="531" x2="338.1" y2="535.5" stroke="#e0202f" stroke-width="0.7"/>
<line x1="336.5" y1="531" x2="339.7" y2="531" stroke="#e0202f" stroke-width="0.7"/>
<line x1="336.5" y1="535.5" x2="339.7" y2="535.5" stroke="#e0202f" stroke-width="0.7"/>
<line x1="352.5" y1="539.5" x2="352.5" y2="549.5" stroke="#e0202f" stroke-width="0.7"/>
<line x1="350.9" y1="539.5" x2="354.1" y2="539.5" stroke="#e0202f" stroke-width="0.7"/>
<line x1="350.9" y1="549.5" x2="354.1" y2="549.5" stroke="#e0202f" stroke-width="0.7"/>
<line x1="366.3" y1="542" x2="366.3" y2="549" stroke="#e0202f" stroke-width="0.7"/>
<line x1="364.7" y1="542" x2="367.9" y2="542" stroke="#e0202f" stroke-width="0.7"/>
<line x1="364.7" y1="549" x2="367.9" y2="549" stroke="#e0202f" stroke-width="0.7"/>
<polyline points="253.1,513 254.02,513 254.94,513 255.86,513 256.77,513 257.69,513 258.61,513 259.53,513 260.45,513 261.37,513 262.29,513 263.21,513 264.12,513 265.04,513 265.96,513 266.88,513 267.8,513 268.72,513 269.64,513 270.56,513 271.47,513 272.39,513 273.31,513 274.23,513 275.15,513 276.07,513 276.99,513 277.91,513 278.82,513 279.74,513 280.66,513 281.58,513 282.5,513 283.42,513 284.34,513 285.25,513 286.17,513 287.09,513 288.01,513 288.93,513 289.85,513 290.77,513 291.69,513 292.6,513 293.52,513 294.44,513 295.36,513 296.28,513 297.2,513 298.12,513 299.04,513 299.95,513 300.87,513 301.79,513 302.71,513 303.63,513 304.55,513.01 305.47,513.01 306.38,513.02 307.3,513.03 308.22,513.04 309.14,513.06 310.06,513.09 310.98,513.14 311.9,513.2 312.82,513.31 313.73,513.46 314.65,513.7 315.57,514.05 316.49,514.58 317.41,515.35 318.33,516.49 319.25,518.13 320.17,520.44 321.08,523.6 322,527.75 322.92,532.88 323.84,538.84 324.76,545.21 325.68,551.5 326.6,557.2 327.52,562 328.43,565.8 329.35,568.64 330.27,570.7 331.19,572.15 332.11,573.15 333.03,573.83 333.95,574.29 334.86,574.59 335.78,574.8 336.7,574.93 337.62,575.02 338.54,575.08 339.46,575.12 340.38,575.15 341.3,575.17 342.21,575.18 343.13,575.19 344.05,575.19 344.97,575.19 345.89,575.2 346.81,575.2 347.73,575.2 348.65,575.2 349.56,575.2 350.48,575.2 351.4,575.2 352.32,575.2 353.24,575.2 354.16,575.2 355.08,575.2 355.99,575.2 356.91,575.2 357.83,575.2 358.75,575.2 359.67,575.2 360.59,575.2 361.51,575.2 362.43,575.2 363.34,575.2 364.26,575.2 365.18,575.2 366.1,575.2 367.02,575.2 367.94,575.2 368.86,575.2 369.78,575.2 370.69,575.2 371.61,575.2 372.53,575.2 373.45,575.2 374.37,575.2 375.29,575.2 376.21,575.2 377.13,575.2 378.04,575.2 378.96,575.2 379.88,575.2 380.8,575.2" fill="none" stroke="#111" stroke-width="1.0" stroke-linejoin="round"/>
<rect x="341.5" y="574.3" width="43" height="2.3" fill="#888"/>
<rect x="251.8" y="511.7" width="2.6" height="2.6" fill="#111"/>
<rect x="280" y="511.7" width="2.6" height="2.6" fill="#111"/>
<rect x="294.4" y="510.8" width="2.6" height="2.6" fill="#111"/>
<rect x="301.7" y="511.7" width="2.6" height="2.6" fill="#111"/>
<rect x="308.6" y="509.4" width="2.6" height="2.6" fill="#111"/>
<rect x="311.7" y="514.6" width="2.6" height="2.6" fill="#111"/>
<rect x="321" y="539" width="2.6" height="2.6" fill="#111"/>
<rect x="322.4" y="541.9" width="2.6" height="2.6" fill="#111"/>
<rect x="330.7" y="570.2" width="2.6" height="2.6" fill="#111"/>
<rect x="337.2" y="573.9" width="2.6" height="2.6" fill="#111"/>
<rect x="341" y="573.9" width="2.6" height="2.6" fill="#111"/>
<rect x="351" y="573.9" width="2.6" height="2.6" fill="#111"/>
<rect x="360.2" y="573.9" width="2.6" height="2.6" fill="#111"/>
<rect x="364.9" y="573.9" width="2.6" height="2.6" fill="#111"/>
<rect x="369.5" y="573.9" width="2.6" height="2.6" fill="#111"/>
<rect x="379.9" y="573.9" width="2.6" height="2.6" fill="#111"/>
<line x1="295.7" y1="508" x2="295.7" y2="515.5" stroke="#111" stroke-width="0.7"/>
<line x1="294.1" y1="508" x2="297.3" y2="508" stroke="#111" stroke-width="0.7"/>
<line x1="294.1" y1="515.5" x2="297.3" y2="515.5" stroke="#111" stroke-width="0.7"/>
<line x1="309.9" y1="506.5" x2="309.9" y2="514" stroke="#111" stroke-width="0.7"/>
<line x1="308.3" y1="506.5" x2="311.5" y2="506.5" stroke="#111" stroke-width="0.7"/>
<line x1="308.3" y1="514" x2="311.5" y2="514" stroke="#111" stroke-width="0.7"/>
<line x1="313" y1="512" x2="313" y2="519" stroke="#111" stroke-width="0.7"/>
<line x1="311.4" y1="512" x2="314.6" y2="512" stroke="#111" stroke-width="0.7"/>
<line x1="311.4" y1="519" x2="314.6" y2="519" stroke="#111" stroke-width="0.7"/>
<line x1="322.3" y1="535" x2="322.3" y2="543" stroke="#111" stroke-width="0.7"/>
<line x1="320.7" y1="535" x2="323.9" y2="535" stroke="#111" stroke-width="0.7"/>
<line x1="320.7" y1="543" x2="323.9" y2="543" stroke="#111" stroke-width="0.7"/>
<line x1="323.7" y1="539.5" x2="323.7" y2="546.5" stroke="#111" stroke-width="0.7"/>
<line x1="322.1" y1="539.5" x2="325.3" y2="539.5" stroke="#111" stroke-width="0.7"/>
<line x1="322.1" y1="546.5" x2="325.3" y2="546.5" stroke="#111" stroke-width="0.7"/>
<line x1="403.4" y1="511.3" x2="410.8" y2="511.3" stroke="#e0202f" stroke-width="1.0"/>
<rect x="405.9" y="510.1" width="2.4" height="2.4" fill="#e0202f"/>
<text x="415.3" y="513.7" font-size="6.7" text-anchor="start" fill="#231f20">Human hepatocytes</text>
<line x1="403.4" y1="520.3" x2="410.8" y2="520.3" stroke="#111" stroke-width="1.0"/>
<circle cx="407.1" cy="520.3" r="1.4" fill="#111"/>
<text x="415.3" y="522.7" font-size="6.7" text-anchor="start" fill="#231f20">Colo205</text>
</svg>
</body></html>
